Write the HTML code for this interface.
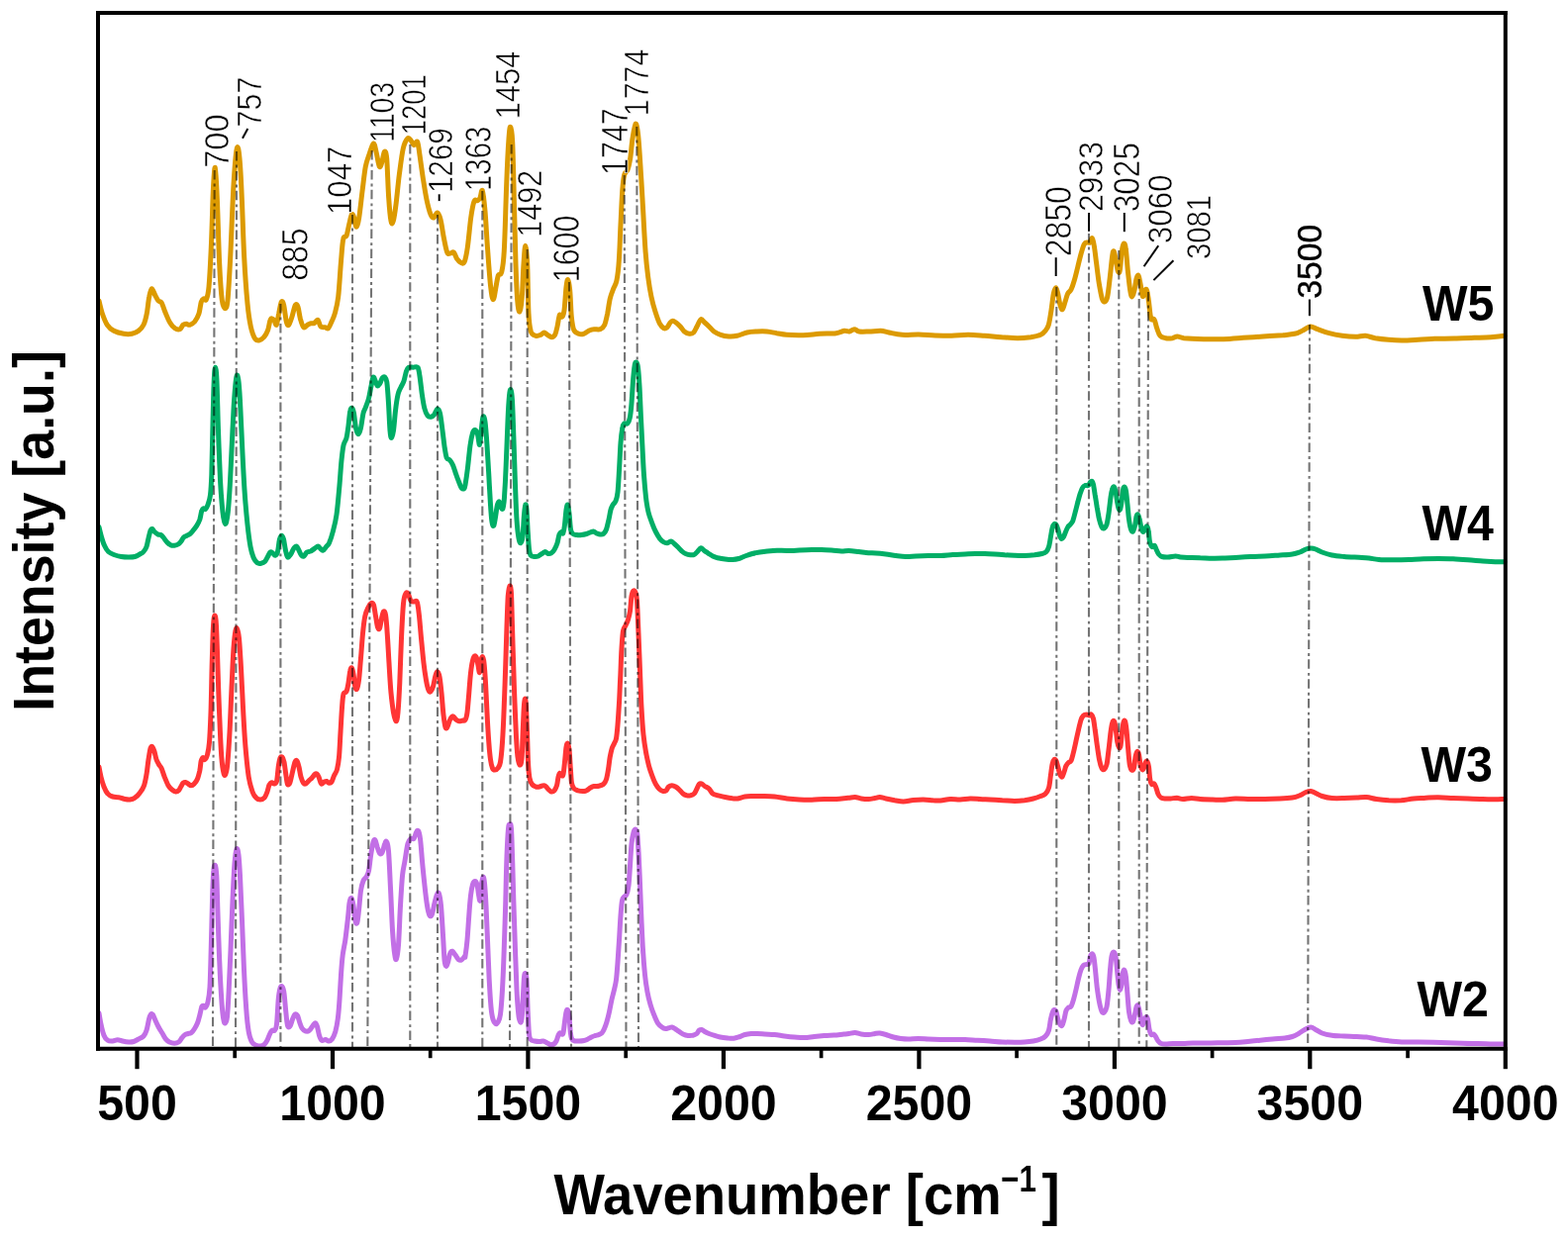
<!DOCTYPE html>
<html lang="en"><head><meta charset="utf-8"><title>Raman spectra W2-W5</title>
<style>
html,body{margin:0;padding:0;background:#fff;}
body{width:1584px;height:1251px;overflow:hidden;position:relative;}
svg{position:absolute;left:0;top:0;display:block;}
text{font-family:"Liberation Sans",sans-serif;fill:#000;}
.b{font-weight:bold;}
.tick{font-weight:bold;font-size:48.3px;text-anchor:middle;}
.ser{font-weight:bold;font-size:48.3px;}
.ax{font-weight:bold;font-size:54.2px;text-anchor:middle;}
.ay{font-weight:bold;font-size:53.8px;text-anchor:middle;}
.pk{stroke:#fff;stroke-width:0.6px;}
.c{fill:none;stroke-width:5.0;stroke-linejoin:round;stroke-linecap:round;}
.g{stroke:#747474;stroke-width:2.1;stroke-dasharray:9.5 4.1 2.9 3.4;fill:none;}
#guides{mix-blend-mode:multiply;}
.ld{stroke:#000;stroke-width:2.0;fill:none;}
</style></head><body>
<svg width="1584" height="1251" viewBox="0 0 1584 1251">
<rect x="0" y="0" width="1584" height="1251" fill="#ffffff"/>

<g id="curves">
<path class="c" stroke="#C26FE6" d="M100.0 1023.8C100.3 1025.6 101.2 1031.2 102.0 1035.0C102.8 1038.8 103.9 1043.5 105.0 1046.2C106.1 1049.0 107.3 1050.3 108.8 1051.2C110.2 1052.2 112.1 1052.1 113.8 1052.0C115.4 1051.9 117.1 1050.8 118.8 1050.8C120.4 1050.8 121.9 1051.6 123.8 1052.0C125.6 1052.4 128.1 1052.9 130.0 1053.0C131.9 1053.1 133.3 1053.0 135.0 1052.5C136.7 1052.0 138.3 1050.9 140.0 1050.0C141.7 1049.1 143.7 1048.5 145.0 1047.0C146.3 1045.5 147.1 1044.1 148.0 1041.2C148.9 1038.4 149.8 1032.7 150.5 1030.0C151.2 1027.3 151.8 1025.8 152.5 1025.0C153.2 1024.2 153.8 1024.5 154.5 1025.5C155.2 1026.5 156.1 1029.2 157.0 1031.2C157.9 1033.2 158.9 1035.4 160.0 1037.5C161.1 1039.6 162.5 1041.7 163.8 1043.8C165.0 1045.8 166.2 1048.5 167.5 1050.0C168.8 1051.5 169.8 1052.3 171.2 1053.0C172.7 1053.7 174.7 1054.2 176.2 1054.2C177.8 1054.2 179.2 1053.9 180.5 1053.0C181.8 1052.1 182.7 1050.0 183.8 1048.8C184.8 1047.5 186.0 1046.2 187.0 1045.5C188.0 1044.8 189.0 1044.8 190.0 1044.5C191.0 1044.2 192.0 1044.5 193.0 1043.8C194.0 1043.0 195.2 1041.7 196.2 1040.0C197.3 1038.3 198.5 1036.2 199.5 1033.8C200.5 1031.2 201.3 1027.7 202.0 1025.0C202.7 1022.3 203.2 1019.0 203.8 1017.5C204.3 1016.0 204.9 1016.2 205.5 1016.2C206.1 1016.3 206.8 1018.6 207.5 1018.0C208.2 1017.4 209.2 1015.9 210.0 1012.5C210.8 1009.1 211.5 1006.2 212.0 997.5C212.5 988.8 212.8 974.6 213.2 960.0C213.7 945.4 214.1 923.3 214.5 910.0C214.9 896.7 215.2 885.9 215.8 880.0C216.2 874.1 217.0 873.7 217.5 874.5C218.0 875.3 218.3 877.0 218.8 885.0C219.2 893.0 219.5 907.9 220.0 922.5C220.5 937.1 221.1 957.9 221.8 972.5C222.4 987.1 223.1 1000.4 223.8 1010.0C224.4 1019.6 225.1 1026.0 225.8 1030.0C226.4 1034.0 226.9 1034.2 227.5 1033.8C228.1 1033.3 228.9 1033.1 229.5 1027.5C230.1 1021.9 230.7 1011.2 231.2 1000.0C231.8 988.8 232.4 975.0 233.0 960.0C233.6 945.0 234.3 924.6 235.0 910.0C235.7 895.4 236.3 881.2 237.0 872.5C237.7 863.8 238.3 859.5 239.0 858.0C239.7 856.5 240.4 859.2 241.0 863.8C241.6 868.2 241.9 874.0 242.5 885.0C243.1 896.0 243.8 914.2 244.5 930.0C245.2 945.8 245.8 965.0 246.5 980.0C247.2 995.0 248.0 1009.6 248.8 1020.0C249.5 1030.4 250.3 1037.0 251.2 1042.5C252.2 1048.0 253.2 1050.7 254.5 1053.0C255.8 1055.3 257.3 1055.6 258.8 1056.2C260.2 1056.9 261.6 1057.1 263.0 1057.0C264.4 1056.9 265.8 1056.5 267.0 1055.5C268.2 1054.5 269.1 1053.0 270.0 1051.2C270.9 1049.5 271.7 1046.7 272.5 1045.0C273.3 1043.3 274.2 1041.9 275.0 1041.2C275.8 1040.6 276.8 1042.3 277.5 1041.2C278.2 1040.2 278.9 1040.2 279.5 1035.0C280.1 1029.8 280.7 1016.0 281.2 1010.0C281.8 1004.0 282.4 1000.9 283.0 998.8C283.6 996.6 284.3 996.2 285.0 997.0C285.7 997.8 286.4 999.5 287.0 1003.8C287.6 1008.0 288.2 1017.1 288.8 1022.5C289.3 1027.9 289.8 1033.8 290.5 1036.2C291.2 1038.7 292.2 1038.0 293.0 1037.0C293.8 1036.0 294.7 1032.0 295.5 1030.0C296.3 1028.0 297.2 1025.6 298.0 1025.0C298.8 1024.4 299.8 1025.0 300.5 1026.2C301.2 1027.5 301.8 1030.4 302.5 1032.5C303.2 1034.6 304.0 1037.2 305.0 1038.8C306.0 1040.3 307.5 1041.6 308.8 1042.0C310.0 1042.4 311.2 1042.2 312.5 1041.2C313.8 1040.3 315.2 1037.5 316.2 1036.2C317.3 1035.0 318.0 1033.5 318.8 1033.8C319.5 1034.0 319.9 1035.4 320.5 1037.5C321.1 1039.6 321.8 1044.0 322.5 1046.2C323.2 1048.5 324.0 1050.5 325.0 1051.2C326.0 1052.0 327.6 1050.4 328.8 1050.5C329.9 1050.6 330.9 1052.1 332.0 1052.0C333.1 1051.9 334.4 1051.6 335.5 1050.0C336.6 1048.4 337.8 1045.8 338.8 1042.5C339.7 1039.2 340.5 1035.4 341.2 1030.0C342.0 1024.6 342.5 1017.5 343.0 1010.0C343.5 1002.5 344.0 992.5 344.5 985.0C345.0 977.5 345.5 970.8 346.2 965.0C347.0 959.2 347.9 955.8 348.8 950.0C349.6 944.2 350.5 936.2 351.2 930.0C352.0 923.8 352.4 916.2 353.0 912.5C353.6 908.8 354.3 907.1 355.0 907.5C355.7 907.9 356.4 911.2 357.0 915.0C357.6 918.8 358.1 927.1 358.8 930.0C359.4 932.9 360.1 934.2 360.8 932.5C361.4 930.8 361.9 925.4 362.5 920.0C363.1 914.6 363.8 905.0 364.5 900.0C365.2 895.0 366.1 892.3 367.0 890.0C367.9 887.7 369.1 887.9 370.0 886.2C370.9 884.6 371.8 883.5 372.5 880.0C373.2 876.5 373.8 869.8 374.5 865.0C375.2 860.2 376.2 854.0 377.0 851.2C377.8 848.5 378.3 847.9 379.0 848.8C379.7 849.6 380.5 854.0 381.2 856.2C382.0 858.5 382.9 861.7 383.8 862.5C384.6 863.3 385.4 862.9 386.2 861.2C387.1 859.6 388.0 854.3 388.8 852.5C389.5 850.7 389.9 849.2 390.5 850.5C391.1 851.8 391.8 852.2 392.5 860.0C393.2 867.8 393.8 884.2 394.5 897.5C395.2 910.8 395.8 928.8 396.5 940.0C397.2 951.2 398.1 960.2 398.8 965.0C399.4 969.8 399.9 970.4 400.5 968.8C401.1 967.1 401.8 964.0 402.5 955.0C403.2 946.0 403.8 926.7 404.5 915.0C405.2 903.3 405.8 892.5 406.5 885.0C407.2 877.5 408.1 875.4 409.0 870.0C409.9 864.6 411.0 856.2 412.0 852.5C413.0 848.8 414.0 848.3 415.0 847.5C416.0 846.7 417.1 848.5 418.0 847.5C418.9 846.5 419.8 842.6 420.5 841.2C421.2 839.9 421.8 838.5 422.5 839.5C423.2 840.5 423.8 842.4 424.5 847.5C425.2 852.6 425.8 862.1 426.5 870.0C427.2 877.9 428.2 887.5 429.0 895.0C429.8 902.5 430.7 910.0 431.5 915.0C432.3 920.0 433.2 923.5 434.0 925.0C434.8 926.5 435.7 925.8 436.5 923.8C437.3 921.7 438.2 915.8 439.0 912.5C439.8 909.2 440.8 905.3 441.5 903.8C442.2 902.2 442.8 901.1 443.5 903.0C444.2 904.9 444.8 908.0 445.5 915.0C446.2 922.0 446.9 935.8 447.5 945.0C448.1 954.2 448.5 964.8 449.0 970.0C449.5 975.2 449.9 975.8 450.5 976.2C451.1 976.7 451.8 974.6 452.5 972.5C453.2 970.4 453.8 965.6 454.5 963.8C455.2 961.9 456.1 961.0 457.0 961.2C457.9 961.5 459.0 963.6 460.0 965.0C461.0 966.4 462.0 968.7 463.0 969.5C464.0 970.3 465.2 970.5 466.2 970.0C467.3 969.5 468.9 966.9 469.5 966.2C470.1 965.6 469.6 969.0 470.0 966.2C470.4 963.5 471.4 956.9 472.0 950.0C472.6 943.1 473.2 932.5 473.8 925.0C474.3 917.5 474.9 910.2 475.5 905.0C476.1 899.8 476.8 896.2 477.5 893.8C478.2 891.3 479.2 890.5 480.0 890.5C480.8 890.5 481.4 891.5 482.0 893.8C482.6 896.0 483.0 901.0 483.5 903.8C484.0 906.5 484.5 911.5 485.0 910.0C485.5 908.5 485.8 899.0 486.2 895.0C486.8 891.0 487.5 886.7 488.0 886.2C488.5 885.8 489.0 887.7 489.5 892.5C490.0 897.3 490.5 905.4 491.0 915.0C491.5 924.6 492.0 937.5 492.5 950.0C493.0 962.5 493.7 978.8 494.2 990.0C494.8 1001.2 495.4 1010.8 496.0 1017.5C496.6 1024.2 497.2 1027.2 498.0 1030.0C498.8 1032.8 499.7 1034.0 500.5 1034.5C501.3 1035.0 502.2 1034.6 503.0 1033.0C503.8 1031.4 504.8 1030.5 505.5 1025.0C506.2 1019.5 506.9 1010.8 507.5 1000.0C508.1 989.2 508.7 975.0 509.2 960.0C509.8 945.0 510.3 925.8 510.8 910.0C511.2 894.2 511.5 877.1 512.0 865.0C512.5 852.9 513.0 842.8 513.5 837.5C514.0 832.2 514.5 833.0 515.0 833.0C515.5 833.0 516.0 830.9 516.5 837.5C517.0 844.1 517.3 859.6 517.8 872.5C518.2 885.4 518.5 900.4 519.0 915.0C519.5 929.6 520.0 945.8 520.5 960.0C521.0 974.2 521.5 989.2 522.0 1000.0C522.5 1010.8 523.2 1019.6 523.8 1025.0C524.3 1030.4 525.0 1031.7 525.5 1032.5C526.0 1033.3 526.5 1033.8 527.0 1030.0C527.5 1026.2 527.8 1017.1 528.2 1010.0C528.7 1002.9 529.1 991.9 529.5 987.5C529.9 983.1 530.3 983.3 530.8 983.8C531.2 984.2 531.6 983.5 532.0 990.0C532.4 996.5 532.8 1013.3 533.2 1022.5C533.7 1031.7 534.0 1040.3 534.5 1045.0C535.0 1049.7 535.3 1049.3 536.2 1050.5C537.2 1051.7 538.5 1051.7 540.0 1052.0C541.5 1052.3 543.5 1052.5 545.0 1052.5C546.5 1052.5 547.5 1051.8 548.8 1052.0C550.0 1052.2 551.2 1053.1 552.5 1053.8C553.8 1054.4 555.1 1055.5 556.2 1055.8C557.4 1056.0 558.5 1055.6 559.5 1055.0C560.5 1054.4 561.2 1053.5 562.0 1052.0C562.8 1050.5 563.4 1047.6 564.0 1046.2C564.6 1044.9 564.9 1044.0 565.5 1043.8C566.1 1043.5 566.9 1045.0 567.5 1045.0C568.1 1045.0 568.5 1045.8 569.0 1043.8C569.5 1041.7 570.0 1036.0 570.5 1032.5C571.0 1029.0 571.5 1024.5 572.0 1022.5C572.5 1020.5 573.0 1019.7 573.5 1020.5C574.0 1021.3 574.5 1023.8 575.0 1027.5C575.5 1031.2 575.8 1038.8 576.2 1042.5C576.7 1046.2 576.9 1048.0 577.5 1049.5C578.1 1051.0 578.8 1051.3 580.0 1051.8C581.2 1052.2 583.3 1052.0 585.0 1052.0C586.7 1052.0 588.5 1051.8 590.0 1051.5C591.5 1051.2 592.5 1050.6 593.8 1050.0C595.0 1049.4 596.2 1048.6 597.5 1048.0C598.8 1047.4 600.0 1046.9 601.2 1046.5C602.5 1046.1 603.9 1046.0 605.0 1045.5C606.1 1045.0 607.1 1044.8 608.0 1043.8C608.9 1042.8 609.7 1041.4 610.5 1039.5C611.3 1037.6 612.2 1035.3 613.0 1032.5C613.8 1029.7 614.7 1026.2 615.5 1022.5C616.3 1018.8 617.2 1013.8 618.0 1010.0C618.8 1006.2 619.8 1003.3 620.5 1000.0C621.2 996.7 621.9 994.6 622.5 990.0C623.1 985.4 623.5 979.2 624.0 972.5C624.5 965.8 625.0 957.9 625.5 950.0C626.0 942.1 626.5 931.7 627.0 925.0C627.5 918.3 627.9 913.1 628.5 910.0C629.1 906.9 629.8 907.3 630.5 906.2C631.2 905.2 632.2 905.6 633.0 903.8C633.8 901.9 634.4 899.8 635.0 895.0C635.6 890.2 636.0 882.1 636.5 875.0C637.0 867.9 637.4 858.1 638.0 852.5C638.6 846.9 639.3 843.7 640.0 841.2C640.7 838.8 641.4 837.8 642.0 838.0C642.6 838.2 643.2 838.8 643.8 842.5C644.2 846.2 644.5 851.7 645.0 860.0C645.5 868.3 646.0 880.8 646.5 892.5C647.0 904.2 647.5 918.8 648.0 930.0C648.5 941.2 648.9 950.8 649.5 960.0C650.1 969.2 650.8 977.9 651.5 985.0C652.2 992.1 653.1 997.5 654.0 1002.5C654.9 1007.5 655.9 1011.2 657.0 1015.0C658.1 1018.8 659.2 1021.9 660.5 1025.0C661.8 1028.1 663.1 1031.6 664.5 1033.8C665.9 1035.9 667.4 1037.0 668.8 1038.0C670.1 1039.0 671.4 1039.4 672.5 1039.5C673.6 1039.6 674.5 1039.0 675.5 1038.8C676.5 1038.5 677.6 1037.8 678.8 1038.0C679.9 1038.2 681.2 1039.2 682.5 1040.0C683.8 1040.8 685.0 1041.7 686.2 1042.5C687.5 1043.3 688.5 1044.3 690.0 1045.0C691.5 1045.7 693.3 1046.3 695.0 1046.5C696.7 1046.7 698.5 1046.6 700.0 1046.2C701.5 1045.9 702.7 1045.3 703.8 1044.5C704.8 1043.7 705.4 1041.9 706.2 1041.2C707.1 1040.6 707.8 1040.3 708.8 1040.5C709.7 1040.7 710.8 1041.8 712.0 1042.5C713.2 1043.2 714.7 1043.9 716.2 1044.5C717.8 1045.1 719.4 1045.7 721.2 1046.2C723.1 1046.8 725.2 1047.5 727.5 1048.0C729.8 1048.5 732.7 1048.8 735.0 1049.0C737.3 1049.2 739.2 1049.5 741.2 1049.2C743.3 1049.0 745.6 1048.1 747.5 1047.5C749.4 1046.9 750.6 1046.0 752.5 1045.5C754.4 1045.0 756.7 1044.7 758.8 1044.5C760.8 1044.3 762.7 1044.4 765.0 1044.5C767.3 1044.6 769.6 1044.8 772.5 1045.0C775.4 1045.2 779.2 1045.2 782.5 1045.5C785.8 1045.8 789.2 1046.6 792.5 1047.0C795.8 1047.4 799.2 1047.8 802.5 1048.0C805.8 1048.2 809.2 1048.6 812.5 1048.5C815.8 1048.4 819.2 1047.8 822.5 1047.5C825.8 1047.2 829.2 1046.8 832.5 1046.5C835.8 1046.2 839.2 1046.2 842.5 1046.0C845.8 1045.8 850.0 1045.2 852.5 1045.0C855.0 1044.8 855.6 1044.8 857.5 1044.5C859.4 1044.2 861.7 1043.4 863.8 1043.5C865.8 1043.6 867.7 1044.7 870.0 1045.0C872.3 1045.3 875.2 1045.6 877.5 1045.5C879.8 1045.4 881.9 1044.8 883.8 1044.5C885.6 1044.2 886.9 1043.8 888.8 1044.0C890.6 1044.2 892.7 1044.8 895.0 1045.5C897.3 1046.2 900.0 1047.3 902.5 1048.0C905.0 1048.7 907.5 1049.2 910.0 1049.5C912.5 1049.8 914.6 1050.0 917.5 1050.0C920.4 1050.0 924.2 1049.5 927.5 1049.5C930.8 1049.5 933.8 1049.8 937.5 1050.0C941.2 1050.2 945.8 1050.4 950.0 1050.5C954.2 1050.6 958.3 1050.5 962.5 1050.5C966.7 1050.5 970.8 1050.4 975.0 1050.5C979.2 1050.6 983.3 1051.0 987.5 1051.2C991.7 1051.5 995.8 1051.7 1000.0 1052.0C1004.2 1052.3 1008.3 1052.8 1012.5 1053.0C1016.7 1053.2 1021.2 1053.2 1025.0 1053.2C1028.8 1053.2 1031.9 1053.2 1035.0 1053.0C1038.1 1052.8 1041.0 1052.5 1043.8 1052.0C1046.5 1051.5 1049.2 1050.8 1051.2 1050.0C1053.3 1049.2 1054.9 1048.5 1056.2 1047.0C1057.6 1045.5 1058.7 1043.9 1059.5 1041.2C1060.3 1038.6 1060.7 1034.2 1061.2 1031.2C1061.8 1028.3 1062.4 1025.5 1063.0 1023.8C1063.6 1022.0 1064.3 1020.7 1065.0 1020.5C1065.7 1020.3 1066.4 1020.9 1067.0 1022.5C1067.6 1024.1 1068.1 1027.9 1068.8 1030.0C1069.4 1032.1 1070.0 1034.0 1070.8 1035.0C1071.5 1036.0 1072.3 1037.1 1073.0 1036.2C1073.7 1035.4 1074.3 1032.5 1075.0 1030.0C1075.7 1027.5 1076.2 1023.2 1077.0 1021.2C1077.8 1019.2 1078.7 1018.7 1079.5 1018.0C1080.3 1017.3 1081.2 1018.3 1082.0 1017.0C1082.8 1015.7 1083.7 1012.8 1084.5 1010.0C1085.3 1007.2 1086.2 1003.5 1087.0 1000.0C1087.8 996.5 1088.7 992.1 1089.5 988.8C1090.3 985.4 1091.2 982.2 1092.0 980.0C1092.8 977.8 1093.6 976.4 1094.5 975.5C1095.4 974.6 1096.6 974.8 1097.5 974.5C1098.4 974.2 1099.3 975.1 1100.0 973.8C1100.7 972.4 1100.9 967.9 1101.5 966.2C1102.1 964.6 1102.9 963.5 1103.5 963.8C1104.1 964.0 1104.5 964.8 1105.0 967.5C1105.5 970.2 1106.0 975.0 1106.5 980.0C1107.0 985.0 1107.6 992.1 1108.2 997.5C1108.9 1002.9 1109.7 1008.4 1110.5 1012.5C1111.3 1016.6 1112.2 1020.2 1113.0 1022.0C1113.8 1023.8 1114.7 1023.8 1115.5 1023.0C1116.3 1022.2 1117.2 1021.3 1118.0 1017.5C1118.8 1013.7 1119.4 1006.2 1120.0 1000.0C1120.6 993.8 1121.0 985.6 1121.5 980.0C1122.0 974.4 1122.4 969.2 1123.0 966.2C1123.6 963.2 1124.3 962.0 1125.0 962.0C1125.7 962.0 1126.4 963.2 1127.0 966.2C1127.6 969.2 1128.0 975.2 1128.5 980.0C1129.0 984.8 1129.5 991.6 1130.0 995.0C1130.5 998.4 1131.0 1000.5 1131.5 1000.5C1132.0 1000.5 1132.5 998.0 1133.0 995.0C1133.5 992.0 1134.0 984.9 1134.5 982.5C1135.0 980.1 1135.5 979.7 1136.0 980.5C1136.5 981.3 1137.0 983.4 1137.5 987.5C1138.0 991.6 1138.5 999.2 1139.0 1005.0C1139.5 1010.8 1139.9 1018.1 1140.5 1022.5C1141.1 1026.9 1141.8 1029.6 1142.5 1031.2C1143.2 1032.9 1143.8 1033.5 1144.5 1032.5C1145.2 1031.5 1145.9 1027.5 1146.5 1025.0C1147.1 1022.5 1147.5 1019.0 1148.0 1017.5C1148.5 1016.0 1149.0 1015.4 1149.5 1016.2C1150.0 1017.1 1150.7 1019.8 1151.2 1022.5C1151.8 1025.2 1152.5 1030.3 1153.0 1032.5C1153.5 1034.7 1154.0 1035.9 1154.5 1035.5C1155.0 1035.1 1155.7 1031.3 1156.2 1030.0C1156.8 1028.7 1157.5 1027.5 1158.0 1027.5C1158.5 1027.5 1159.0 1027.9 1159.5 1030.0C1160.0 1032.1 1160.4 1037.4 1161.0 1040.0C1161.6 1042.6 1162.2 1044.7 1163.0 1045.5C1163.8 1046.3 1164.8 1044.7 1165.5 1045.0C1166.2 1045.3 1166.8 1046.3 1167.5 1047.5C1168.2 1048.7 1169.1 1050.8 1170.0 1052.0C1170.9 1053.2 1171.8 1054.0 1173.0 1054.5C1174.2 1055.0 1175.5 1055.0 1177.5 1055.0C1179.5 1055.0 1182.1 1054.6 1185.0 1054.5C1187.9 1054.4 1191.7 1054.6 1195.0 1054.5C1198.3 1054.4 1201.2 1054.1 1205.0 1054.0C1208.8 1053.9 1213.3 1054.0 1217.5 1054.0C1221.7 1054.0 1224.9 1053.8 1230.0 1053.8C1235.1 1053.7 1242.9 1053.7 1248.0 1053.5C1253.1 1053.3 1256.3 1052.9 1260.5 1052.5C1264.7 1052.1 1268.8 1051.7 1273.0 1051.2C1277.2 1050.8 1281.3 1050.4 1285.5 1050.0C1289.7 1049.6 1294.7 1049.4 1298.0 1049.0C1301.3 1048.6 1303.2 1048.2 1305.5 1047.5C1307.8 1046.8 1309.7 1045.7 1311.8 1044.5C1313.8 1043.3 1315.9 1041.6 1318.0 1040.5C1320.1 1039.4 1322.4 1038.0 1324.2 1038.0C1326.1 1038.0 1327.4 1039.5 1329.2 1040.5C1331.1 1041.5 1332.8 1043.0 1335.5 1044.0C1338.2 1045.0 1341.8 1045.8 1345.5 1046.2C1349.2 1046.8 1353.8 1046.8 1358.0 1047.0C1362.2 1047.2 1366.8 1047.3 1370.5 1047.5C1374.2 1047.7 1377.2 1047.6 1380.5 1048.0C1383.8 1048.4 1386.8 1049.4 1390.5 1050.0C1394.2 1050.6 1398.4 1051.2 1403.0 1051.8C1407.6 1052.2 1413.0 1052.8 1418.0 1053.0C1423.0 1053.2 1428.0 1053.0 1433.0 1053.0C1438.0 1053.0 1443.0 1053.1 1448.0 1053.2C1453.0 1053.4 1458.0 1053.6 1463.0 1053.8C1468.0 1053.9 1473.0 1054.1 1478.0 1054.2C1483.0 1054.4 1488.0 1054.4 1493.0 1054.5C1498.0 1054.6 1503.5 1054.9 1508.0 1055.0C1512.5 1055.1 1518.0 1055.0 1520.0 1055.0"/>
<path class="c" stroke="#FF3535" d="M100.0 775.0C100.3 776.7 101.2 781.7 102.0 785.0C102.8 788.3 103.9 792.2 105.0 795.0C106.1 797.8 107.3 800.3 108.8 802.0C110.2 803.7 111.9 804.4 113.8 805.0C115.6 805.6 117.9 805.3 120.0 805.8C122.1 806.2 124.4 807.1 126.2 807.5C128.1 807.9 129.6 808.2 131.2 808.0C132.9 807.8 134.6 807.4 136.2 806.2C137.9 805.1 139.7 803.3 141.2 801.2C142.8 799.2 144.4 796.9 145.5 793.8C146.6 790.6 147.2 786.9 148.0 782.5C148.8 778.1 149.3 771.9 150.0 767.5C150.7 763.1 151.4 758.4 152.0 756.2C152.6 754.1 153.1 754.1 153.8 754.5C154.4 754.9 155.0 756.6 155.8 758.8C156.5 760.9 157.2 765.2 158.0 767.5C158.8 769.8 159.7 771.0 160.5 772.5C161.3 774.0 162.0 774.2 163.0 776.2C164.0 778.3 165.1 782.1 166.2 785.0C167.4 787.9 168.8 791.6 170.0 793.8C171.2 795.9 172.5 797.0 173.8 798.0C175.0 799.0 176.4 799.9 177.5 800.0C178.6 800.1 179.6 799.7 180.5 798.8C181.4 797.8 182.2 795.8 183.0 794.5C183.8 793.2 184.2 791.9 185.0 791.2C185.8 790.6 186.7 790.4 187.5 790.5C188.3 790.6 189.1 791.5 190.0 792.0C190.9 792.5 192.0 793.8 193.0 793.8C194.0 793.8 195.2 793.1 196.2 792.0C197.3 790.9 198.6 789.2 199.5 787.0C200.4 784.8 201.1 781.8 201.8 778.8C202.4 775.7 202.7 771.0 203.2 768.8C203.8 766.5 204.4 765.7 205.0 765.5C205.6 765.3 206.2 768.0 207.0 767.5C207.8 767.0 208.8 765.4 209.5 762.5C210.2 759.6 210.9 757.1 211.5 750.0C212.1 742.9 212.5 733.3 213.0 720.0C213.5 706.7 213.8 684.6 214.2 670.0C214.7 655.4 215.0 640.5 215.5 632.5C216.0 624.5 216.5 622.0 217.0 622.0C217.5 622.0 218.0 623.7 218.5 632.5C219.0 641.3 219.5 659.6 220.0 675.0C220.5 690.4 221.1 710.0 221.8 725.0C222.4 740.0 223.0 755.5 223.8 765.0C224.5 774.5 225.5 779.3 226.2 782.0C227.0 784.7 227.6 783.2 228.2 781.2C228.9 779.2 229.4 776.9 230.0 770.0C230.6 763.1 231.3 752.5 232.0 740.0C232.7 727.5 233.3 709.2 234.0 695.0C234.7 680.8 235.3 664.7 236.0 655.0C236.7 645.3 237.4 640.2 238.0 637.0C238.6 633.8 238.9 634.2 239.5 635.5C240.1 636.8 240.8 638.4 241.5 645.0C242.2 651.6 242.8 663.3 243.5 675.0C244.2 686.7 244.8 701.7 245.5 715.0C246.2 728.3 247.0 743.3 248.0 755.0C249.0 766.7 250.1 777.5 251.2 785.0C252.4 792.5 253.8 796.5 255.0 800.0C256.2 803.5 257.4 804.9 258.8 806.2C260.1 807.6 261.6 808.0 263.0 808.0C264.4 808.0 265.8 807.6 267.0 806.2C268.2 804.9 269.2 802.2 270.0 800.0C270.8 797.8 271.2 794.8 272.0 793.2C272.8 791.7 273.7 791.0 274.5 790.8C275.3 790.5 276.2 792.2 277.0 792.0C277.8 791.8 278.8 792.3 279.5 789.5C280.2 786.7 280.7 778.9 281.2 775.0C281.8 771.1 282.4 767.9 283.0 766.2C283.6 764.6 284.3 764.4 285.0 765.0C285.7 765.6 286.4 767.1 287.0 770.0C287.6 772.9 288.2 778.8 288.8 782.5C289.3 786.2 289.8 791.2 290.5 792.5C291.2 793.8 292.2 792.6 293.0 790.5C293.8 788.4 294.7 783.4 295.5 780.0C296.3 776.6 297.2 771.9 298.0 770.0C298.8 768.1 299.3 767.9 300.0 768.8C300.7 769.6 301.3 772.3 302.0 775.0C302.7 777.7 303.2 782.3 304.0 785.0C304.8 787.7 305.7 790.1 306.5 791.2C307.3 792.4 308.1 792.4 309.0 792.0C309.9 791.6 311.0 789.7 312.0 788.8C313.0 787.8 314.0 787.3 315.0 786.2C316.0 785.2 317.2 783.2 318.0 782.5C318.8 781.8 319.3 781.6 320.0 782.0C320.7 782.4 321.2 783.3 322.0 785.0C322.8 786.7 323.6 791.2 324.5 792.0C325.4 792.8 326.6 790.4 327.5 790.0C328.4 789.6 329.2 789.3 330.0 789.5C330.8 789.7 331.7 791.2 332.5 791.2C333.3 791.3 334.2 791.2 335.0 790.0C335.8 788.8 336.6 785.8 337.5 783.8C338.4 781.7 339.7 780.6 340.5 777.5C341.3 774.4 341.9 771.2 342.5 765.0C343.1 758.8 343.5 748.3 344.0 740.0C344.5 731.7 345.0 721.5 345.5 715.0C346.0 708.5 346.2 704.0 347.0 701.2C347.8 698.5 349.2 700.6 350.0 698.8C350.8 696.9 351.4 693.5 352.0 690.0C352.6 686.5 353.2 680.0 353.8 677.5C354.3 675.0 355.0 674.4 355.5 675.0C356.0 675.6 356.5 678.1 357.0 681.2C357.5 684.4 358.2 691.2 358.8 693.8C359.3 696.2 359.9 697.3 360.5 696.2C361.1 695.2 361.8 692.7 362.5 687.5C363.2 682.3 363.8 672.9 364.5 665.0C365.2 657.1 365.8 647.1 366.5 640.0C367.2 632.9 367.8 626.9 368.8 622.5C369.7 618.1 371.0 615.9 372.0 613.8C373.0 611.6 374.1 609.9 375.0 609.5C375.9 609.1 376.8 609.1 377.5 611.2C378.2 613.4 378.8 618.8 379.5 622.5C380.2 626.2 380.8 631.7 381.5 633.8C382.2 635.8 382.8 636.5 383.5 635.0C384.2 633.5 384.8 627.8 385.5 625.0C386.2 622.2 386.8 618.6 387.5 618.0C388.2 617.4 388.9 617.6 389.5 621.2C390.1 624.9 390.7 631.9 391.2 640.0C391.8 648.1 392.4 660.0 393.0 670.0C393.6 680.0 394.2 691.7 395.0 700.0C395.8 708.3 396.7 715.2 397.5 720.0C398.3 724.8 399.2 728.8 400.0 728.8C400.8 728.8 401.4 726.5 402.0 720.0C402.6 713.5 403.2 702.5 403.8 690.0C404.3 677.5 404.9 658.3 405.5 645.0C406.1 631.7 406.8 617.6 407.5 610.0C408.2 602.4 409.2 601.1 410.0 599.5C410.8 597.9 411.7 599.2 412.5 600.5C413.3 601.8 414.1 605.8 415.0 607.0C415.9 608.2 417.0 607.8 418.0 608.0C419.0 608.2 420.4 606.0 421.2 608.0C422.1 610.0 422.5 613.8 423.2 620.0C424.0 626.2 424.7 636.7 425.5 645.0C426.3 653.3 427.2 662.9 428.0 670.0C428.8 677.1 429.7 682.9 430.5 687.5C431.3 692.1 432.2 695.6 433.0 697.5C433.8 699.4 434.2 699.4 435.0 698.8C435.8 698.1 436.7 696.5 437.5 693.8C438.3 691.0 439.2 685.0 440.0 682.5C440.8 680.0 441.3 678.5 442.0 678.8C442.7 679.0 443.3 680.2 444.0 683.8C444.7 687.3 445.3 693.5 446.0 700.0C446.7 706.5 447.3 716.7 448.0 722.5C448.7 728.3 449.3 733.0 450.0 735.0C450.7 737.0 451.2 735.8 452.0 734.5C452.8 733.2 453.6 729.3 454.5 727.5C455.4 725.7 456.5 723.8 457.5 723.8C458.5 723.7 459.5 726.2 460.5 727.0C461.5 727.8 462.6 728.6 463.8 728.8C464.9 728.9 466.5 728.2 467.5 728.0C468.5 727.8 469.2 728.8 470.0 727.5C470.8 726.2 471.4 724.6 472.0 720.0C472.6 715.4 473.2 706.7 473.8 700.0C474.3 693.3 474.9 685.4 475.5 680.0C476.1 674.6 476.8 670.3 477.5 667.5C478.2 664.7 478.8 663.4 479.5 663.0C480.2 662.6 480.9 663.4 481.5 665.0C482.1 666.6 482.5 670.1 483.0 672.5C483.5 674.9 484.0 680.3 484.5 679.5C485.0 678.7 485.5 670.1 486.0 667.5C486.5 664.9 487.0 663.3 487.5 663.8C488.0 664.2 488.5 665.6 489.0 670.0C489.5 674.4 490.0 681.7 490.5 690.0C491.0 698.3 491.5 710.0 492.0 720.0C492.5 730.0 493.2 742.1 493.8 750.0C494.3 757.9 494.9 763.1 495.5 767.5C496.1 771.9 496.8 774.5 497.5 776.2C498.2 778.0 499.1 778.0 500.0 778.0C500.9 778.0 502.1 777.6 503.0 776.2C503.9 774.9 504.8 774.4 505.5 770.0C506.2 765.6 506.9 759.2 507.5 750.0C508.1 740.8 508.7 728.3 509.2 715.0C509.8 701.7 510.3 683.8 510.8 670.0C511.2 656.2 511.6 643.8 512.0 632.5C512.4 621.2 512.8 609.2 513.2 602.5C513.8 595.8 514.5 592.4 515.0 592.0C515.5 591.6 516.1 593.2 516.5 600.0C516.9 606.8 517.1 620.0 517.5 632.5C517.9 645.0 518.3 662.1 518.8 675.0C519.2 687.9 519.5 698.3 520.0 710.0C520.5 721.7 521.0 735.8 521.5 745.0C522.0 754.2 522.4 760.3 523.0 765.0C523.6 769.7 524.3 772.6 525.0 773.0C525.7 773.4 526.5 772.2 527.0 767.5C527.5 762.8 527.7 752.9 528.0 745.0C528.3 737.1 528.7 726.2 529.0 720.0C529.3 713.8 529.6 709.2 530.0 707.5C530.4 705.8 530.8 704.6 531.2 710.0C531.7 715.4 532.1 730.0 532.5 740.0C532.9 750.0 533.1 762.3 533.5 770.0C533.9 777.7 534.3 782.5 535.0 786.2C535.7 790.0 536.5 791.0 537.5 792.5C538.5 794.0 540.0 794.6 541.2 795.0C542.5 795.4 543.8 795.2 545.0 795.0C546.2 794.8 547.7 793.8 548.8 793.8C549.8 793.7 550.4 793.9 551.2 794.5C552.1 795.1 552.8 796.6 553.8 797.5C554.7 798.4 556.0 799.8 557.0 800.0C558.0 800.2 559.1 799.8 560.0 798.8C560.9 797.7 561.8 796.0 562.5 793.8C563.2 791.5 563.5 787.1 564.0 785.0C564.5 782.9 564.9 781.5 565.5 781.2C566.1 781.0 566.9 783.5 567.5 783.8C568.1 784.0 568.5 784.8 569.0 782.5C569.5 780.2 570.0 774.6 570.5 770.0C571.0 765.4 571.5 758.1 572.0 755.0C572.5 751.9 573.0 750.8 573.5 751.2C574.0 751.7 574.5 753.5 575.0 757.5C575.5 761.5 575.8 769.4 576.2 775.0C576.7 780.6 576.9 787.6 577.5 791.2C578.1 794.9 579.0 795.8 580.0 797.0C581.0 798.2 582.3 798.3 583.8 798.8C585.2 799.2 587.3 799.5 588.8 799.5C590.2 799.5 591.2 799.3 592.5 798.8C593.8 798.2 595.0 797.0 596.2 796.2C597.5 795.5 598.5 794.8 600.0 794.5C601.5 794.2 603.4 794.6 605.0 794.2C606.6 793.9 608.2 793.6 609.5 792.5C610.8 791.4 611.7 790.0 612.5 787.5C613.3 785.0 613.9 781.2 614.5 777.5C615.1 773.8 615.6 768.5 616.2 765.0C616.9 761.5 617.5 758.5 618.2 756.2C619.0 754.0 619.8 752.9 620.5 751.2C621.2 749.6 621.9 749.4 622.5 746.2C623.1 743.1 623.5 738.5 624.0 732.5C624.5 726.5 625.0 718.3 625.5 710.0C626.0 701.7 626.3 691.7 626.8 682.5C627.2 673.3 627.5 662.5 628.0 655.0C628.5 647.5 628.8 641.3 629.5 637.5C630.2 633.7 631.2 633.9 632.0 632.0C632.8 630.1 633.8 628.7 634.5 626.2C635.2 623.8 635.9 621.5 636.5 617.5C637.1 613.5 637.4 605.9 638.0 602.5C638.6 599.1 639.3 597.6 640.0 597.0C640.7 596.4 641.4 597.0 642.0 598.8C642.6 600.5 643.0 600.6 643.5 607.5C644.0 614.4 644.5 628.3 645.0 640.0C645.5 651.7 646.0 665.0 646.5 677.5C647.0 690.0 647.4 704.2 648.0 715.0C648.6 725.8 649.2 735.0 650.0 742.5C650.8 750.0 651.6 754.8 652.5 760.0C653.4 765.2 654.5 769.8 655.5 773.8C656.5 777.7 657.6 780.6 658.8 783.8C659.9 786.9 661.2 790.2 662.5 792.5C663.8 794.8 665.0 796.3 666.2 797.5C667.5 798.7 668.9 799.3 670.0 799.5C671.1 799.7 672.1 799.5 673.0 798.8C673.9 798.0 674.5 795.8 675.5 795.0C676.5 794.2 677.6 793.8 678.8 793.8C679.9 793.8 681.2 794.3 682.5 795.0C683.8 795.7 685.0 796.8 686.2 798.0C687.5 799.2 688.8 801.0 690.0 802.0C691.2 803.0 692.5 803.5 693.8 803.8C695.0 804.0 696.2 804.0 697.5 803.8C698.8 803.5 700.2 803.0 701.2 802.0C702.3 801.0 702.9 799.1 703.8 797.5C704.6 795.9 705.4 793.4 706.2 792.5C707.1 791.6 707.8 791.7 708.8 792.0C709.7 792.3 710.8 793.7 712.0 794.5C713.2 795.3 714.9 795.8 716.2 797.0C717.6 798.2 718.5 800.9 720.0 802.0C721.5 803.1 722.9 803.2 725.0 803.8C727.1 804.3 730.0 805.0 732.5 805.5C735.0 806.0 737.9 806.5 740.0 806.8C742.1 807.0 742.9 807.3 745.0 807.0C747.1 806.7 750.0 805.4 752.5 805.0C755.0 804.6 757.1 804.6 760.0 804.5C762.9 804.4 766.2 804.4 770.0 804.5C773.8 804.6 778.3 804.6 782.5 805.0C786.7 805.4 790.8 806.5 795.0 807.0C799.2 807.5 803.3 807.8 807.5 808.0C811.7 808.2 815.8 808.3 820.0 808.2C824.2 808.2 828.3 807.6 832.5 807.5C836.7 807.4 841.2 807.7 845.0 807.5C848.8 807.3 852.9 806.7 855.0 806.5C857.1 806.3 856.0 806.4 857.5 806.2C859.0 806.1 861.7 805.4 863.8 805.5C865.8 805.6 867.7 806.7 870.0 807.0C872.3 807.3 875.2 807.6 877.5 807.5C879.8 807.4 881.9 806.8 883.8 806.5C885.6 806.2 886.9 805.4 888.8 805.5C890.6 805.6 892.5 806.5 895.0 807.0C897.5 807.5 900.8 808.2 903.8 808.8C906.7 809.2 909.4 810.0 912.5 810.0C915.6 810.0 919.2 808.8 922.5 808.5C925.8 808.2 929.2 808.0 932.5 808.0C935.8 808.0 939.6 808.6 942.5 808.8C945.4 808.9 947.1 809.2 950.0 809.0C952.9 808.8 956.7 807.7 960.0 807.5C963.3 807.3 966.7 808.1 970.0 808.0C973.3 807.9 976.7 807.1 980.0 807.0C983.3 806.9 986.7 807.3 990.0 807.5C993.3 807.7 996.2 807.8 1000.0 808.0C1003.8 808.2 1008.3 808.5 1012.5 808.8C1016.7 809.0 1021.2 809.5 1025.0 809.5C1028.8 809.5 1031.9 809.2 1035.0 808.8C1038.1 808.3 1041.0 807.7 1043.8 807.0C1046.5 806.3 1049.2 805.3 1051.2 804.5C1053.3 803.7 1054.9 803.4 1056.2 802.0C1057.6 800.6 1058.7 799.1 1059.5 796.2C1060.3 793.4 1060.7 789.0 1061.2 785.0C1061.8 781.0 1062.4 775.4 1063.0 772.5C1063.6 769.6 1064.3 768.1 1065.0 767.5C1065.7 766.9 1066.4 767.5 1067.0 768.8C1067.6 770.0 1068.1 772.7 1068.8 775.0C1069.4 777.3 1070.0 780.8 1070.8 782.5C1071.5 784.2 1072.3 785.4 1073.0 785.0C1073.7 784.6 1074.3 781.9 1075.0 780.0C1075.7 778.1 1076.2 775.3 1077.0 773.8C1077.8 772.2 1078.7 771.3 1079.5 770.5C1080.3 769.7 1081.2 770.5 1082.0 768.8C1082.8 767.0 1083.7 763.3 1084.5 760.0C1085.3 756.7 1086.2 752.5 1087.0 748.8C1087.8 745.0 1088.7 741.0 1089.5 737.5C1090.3 734.0 1091.2 729.9 1092.0 727.5C1092.8 725.1 1093.6 723.9 1094.5 723.0C1095.4 722.1 1096.5 722.0 1097.5 722.0C1098.5 722.0 1099.7 723.0 1100.5 723.0C1101.3 723.0 1101.8 721.5 1102.5 722.0C1103.2 722.5 1103.9 723.7 1104.5 726.2C1105.1 728.8 1105.6 733.1 1106.2 737.5C1106.9 741.9 1107.5 747.5 1108.2 752.5C1109.0 757.5 1109.7 763.5 1110.5 767.5C1111.3 771.5 1112.2 774.6 1113.0 776.2C1113.8 777.9 1114.7 778.1 1115.5 777.5C1116.3 776.9 1117.2 775.8 1118.0 772.5C1118.8 769.2 1119.3 762.9 1120.0 757.5C1120.7 752.1 1121.4 744.6 1122.0 740.0C1122.6 735.4 1123.2 731.9 1123.8 730.0C1124.3 728.1 1125.0 727.9 1125.5 728.8C1126.0 729.6 1126.5 731.5 1127.0 735.0C1127.5 738.5 1128.2 746.6 1128.8 750.0C1129.3 753.4 1130.0 754.9 1130.5 755.5C1131.0 756.1 1131.5 756.3 1132.0 753.8C1132.5 751.2 1133.0 744.0 1133.5 740.0C1134.0 736.0 1134.5 731.9 1135.0 730.0C1135.5 728.1 1136.0 727.5 1136.5 728.8C1137.0 730.0 1137.5 733.1 1138.0 737.5C1138.5 741.9 1139.0 749.2 1139.5 755.0C1140.0 760.8 1140.6 768.7 1141.2 772.5C1141.9 776.3 1142.5 777.4 1143.2 778.0C1144.0 778.6 1144.9 778.4 1145.5 776.2C1146.1 774.1 1146.5 767.8 1147.0 765.0C1147.5 762.2 1148.2 759.9 1148.8 759.5C1149.3 759.1 1150.0 760.3 1150.5 762.5C1151.0 764.7 1151.5 770.0 1152.0 772.5C1152.5 775.0 1153.2 776.9 1153.8 777.5C1154.3 778.1 1154.9 777.5 1155.5 776.2C1156.1 775.0 1156.9 771.1 1157.5 770.0C1158.1 768.9 1158.5 768.7 1159.0 769.5C1159.5 770.3 1160.0 772.0 1160.5 775.0C1161.0 778.0 1161.2 784.6 1161.8 787.5C1162.2 790.4 1162.8 791.8 1163.5 792.5C1164.2 793.2 1165.2 791.4 1166.0 792.0C1166.8 792.6 1167.3 794.5 1168.0 796.2C1168.7 798.0 1169.2 800.8 1170.0 802.5C1170.8 804.2 1171.8 805.5 1173.0 806.2C1174.2 807.0 1175.9 806.9 1177.5 807.0C1179.1 807.1 1180.6 807.1 1182.5 807.0C1184.4 806.9 1186.7 806.2 1188.8 806.2C1190.8 806.3 1192.5 807.5 1195.0 807.5C1197.5 807.5 1200.8 806.5 1203.8 806.5C1206.7 806.5 1209.0 807.2 1212.5 807.5C1216.0 807.8 1221.2 807.9 1225.0 808.0C1228.8 808.1 1231.2 808.4 1235.0 808.2C1238.8 808.1 1243.3 807.1 1248.0 807.0C1252.7 806.9 1258.0 807.4 1263.0 807.5C1268.0 807.6 1273.0 807.6 1278.0 807.5C1283.0 807.4 1288.4 807.2 1293.0 807.0C1297.6 806.8 1302.2 806.5 1305.5 806.0C1308.8 805.5 1310.7 804.7 1313.0 803.8C1315.3 802.8 1317.4 801.2 1319.2 800.5C1321.1 799.8 1322.6 799.3 1324.2 799.5C1325.9 799.7 1327.4 800.7 1329.2 801.5C1331.1 802.3 1332.8 803.7 1335.5 804.5C1338.2 805.3 1341.8 806.2 1345.5 806.5C1349.2 806.8 1353.8 806.6 1358.0 806.5C1362.2 806.4 1366.8 806.2 1370.5 806.0C1374.2 805.8 1377.2 805.2 1380.5 805.5C1383.8 805.8 1386.8 807.0 1390.5 807.5C1394.2 808.0 1398.8 808.5 1403.0 808.8C1407.2 809.0 1411.3 809.0 1415.5 808.8C1419.7 808.5 1423.8 807.4 1428.0 807.0C1432.2 806.6 1436.3 806.5 1440.5 806.2C1444.7 806.0 1448.4 805.7 1453.0 805.8C1457.6 805.8 1463.0 806.3 1468.0 806.5C1473.0 806.7 1478.0 806.8 1483.0 807.0C1488.0 807.2 1493.4 807.4 1498.0 807.5C1502.6 807.6 1506.8 807.8 1510.5 807.8C1514.2 807.8 1518.4 807.5 1520.0 807.5"/>
<path class="c" stroke="#00AE66" d="M100.0 532.5C100.4 534.2 101.6 539.4 102.5 542.5C103.4 545.6 104.3 548.8 105.5 551.2C106.7 553.8 107.9 556.0 109.5 557.5C111.1 559.0 112.8 559.7 115.0 560.5C117.2 561.3 120.0 562.1 122.5 562.5C125.0 562.9 127.7 563.0 130.0 563.0C132.3 563.0 134.4 563.0 136.2 562.5C138.1 562.0 139.8 560.8 141.2 560.0C142.7 559.2 143.9 558.8 145.0 557.5C146.1 556.2 147.2 554.8 148.0 552.5C148.8 550.2 149.3 546.5 150.0 543.8C150.7 541.0 151.4 537.8 152.0 536.2C152.6 534.7 153.0 534.3 153.8 534.5C154.5 534.7 155.3 536.6 156.2 537.5C157.2 538.4 158.5 539.5 159.5 540.0C160.5 540.5 161.6 540.0 162.5 540.5C163.4 541.0 164.0 541.8 165.0 543.0C166.0 544.2 167.5 546.7 168.8 548.0C170.0 549.3 171.2 550.2 172.5 550.8C173.8 551.3 175.0 551.4 176.2 551.2C177.5 551.1 178.9 550.7 180.0 550.0C181.1 549.3 182.1 548.2 183.0 547.0C183.9 545.8 184.5 544.0 185.5 543.0C186.5 542.0 187.7 541.8 188.8 541.2C189.8 540.7 191.0 540.3 192.0 539.5C193.0 538.7 193.9 537.6 195.0 536.2C196.1 534.9 197.6 533.1 198.8 531.2C199.9 529.4 200.9 527.5 201.8 525.0C202.6 522.5 203.1 518.1 203.8 516.2C204.4 514.4 204.9 514.0 205.5 513.8C206.1 513.5 206.8 515.1 207.5 514.5C208.2 513.9 209.2 512.4 210.0 510.0C210.8 507.6 211.9 505.0 212.5 500.0C213.1 495.0 213.3 492.1 213.8 480.0C214.2 467.9 214.6 443.3 215.0 427.5C215.4 411.7 215.8 394.4 216.2 385.0C216.7 375.6 217.0 371.2 217.5 371.2C218.0 371.2 218.5 374.4 219.0 385.0C219.5 395.6 219.9 418.3 220.5 435.0C221.1 451.7 221.8 471.2 222.5 485.0C223.2 498.8 224.2 510.1 225.0 517.5C225.8 524.9 226.7 529.1 227.5 529.5C228.3 529.9 229.2 525.8 230.0 520.0C230.8 514.2 231.3 505.8 232.0 495.0C232.7 484.2 233.3 469.2 234.0 455.0C234.7 440.8 235.5 422.3 236.2 410.0C237.0 397.7 238.0 385.6 238.8 381.2C239.5 376.9 240.1 379.8 240.8 383.8C241.4 387.7 241.9 394.4 242.5 405.0C243.1 415.6 243.8 432.5 244.5 447.5C245.2 462.5 246.1 481.2 247.0 495.0C247.9 508.8 249.0 520.4 250.0 530.0C251.0 539.6 252.0 546.9 253.0 552.5C254.0 558.1 255.1 561.0 256.2 563.8C257.4 566.5 258.8 567.8 260.0 568.8C261.2 569.7 262.5 569.5 263.8 569.2C265.0 569.0 266.4 568.6 267.5 567.5C268.6 566.4 269.6 564.1 270.5 562.5C271.4 560.9 272.2 558.6 273.0 558.0C273.8 557.4 274.7 558.2 275.5 558.8C276.3 559.3 277.2 561.5 278.0 561.2C278.8 561.0 279.8 560.2 280.5 557.5C281.2 554.8 281.8 547.7 282.5 545.0C283.2 542.3 283.8 541.2 284.5 541.2C285.2 541.2 285.8 542.3 286.5 545.0C287.2 547.7 288.0 554.5 288.8 557.5C289.5 560.5 289.9 562.8 290.8 563.2C291.6 563.7 292.7 561.6 293.8 560.0C294.8 558.4 296.0 555.1 297.0 553.8C298.0 552.4 298.7 551.6 299.5 552.0C300.3 552.4 301.2 554.7 302.0 556.2C302.8 557.8 303.7 560.3 304.5 561.2C305.3 562.2 306.1 562.5 307.0 562.0C307.9 561.5 308.9 558.8 310.0 558.0C311.1 557.2 312.5 557.6 313.8 557.0C315.0 556.4 316.2 555.3 317.5 554.5C318.8 553.7 320.2 552.0 321.2 552.0C322.3 552.0 322.9 553.8 323.8 554.5C324.6 555.2 325.3 556.6 326.2 556.2C327.2 555.9 328.5 553.8 329.5 552.5C330.5 551.2 331.4 551.2 332.5 548.8C333.6 546.2 335.0 542.3 336.2 537.5C337.5 532.7 338.9 527.9 340.0 520.0C341.1 512.1 342.2 499.2 343.0 490.0C343.8 480.8 344.3 471.7 345.0 465.0C345.7 458.3 346.2 453.8 347.0 450.0C347.8 446.2 349.2 445.8 350.0 442.5C350.8 439.2 351.4 434.6 352.0 430.0C352.6 425.4 353.1 417.9 353.8 415.0C354.4 412.1 355.1 412.1 355.8 412.5C356.4 412.9 356.9 414.2 357.5 417.5C358.1 420.8 358.8 429.0 359.5 432.5C360.2 436.0 361.2 438.8 362.0 438.8C362.8 438.8 363.7 436.0 364.5 432.5C365.3 429.0 366.2 421.0 367.0 417.5C367.8 414.0 368.6 413.8 369.5 411.2C370.4 408.8 371.6 406.0 372.5 402.5C373.4 399.0 374.2 393.5 375.0 390.0C375.8 386.5 376.3 382.2 377.0 381.2C377.7 380.3 378.3 383.0 379.0 384.5C379.7 386.0 380.5 389.5 381.2 390.0C382.0 390.5 382.9 388.8 383.8 387.5C384.6 386.2 385.4 383.0 386.2 382.0C387.1 381.0 388.0 380.5 388.8 381.2C389.5 382.0 390.1 381.9 390.8 386.2C391.4 390.6 392.0 399.4 392.5 407.5C393.0 415.6 393.5 429.2 394.0 435.0C394.5 440.8 394.9 442.5 395.5 442.5C396.1 442.5 396.8 439.6 397.5 435.0C398.2 430.4 398.8 421.0 399.5 415.0C400.2 409.0 401.1 402.7 402.0 398.8C402.9 394.8 404.0 393.5 405.0 391.2C406.0 389.0 407.1 387.7 408.0 385.0C408.9 382.3 409.7 377.3 410.5 375.0C411.3 372.7 411.8 371.9 413.0 371.2C414.2 370.6 416.0 371.2 417.5 371.2C419.0 371.2 420.9 369.8 422.0 371.2C423.1 372.7 423.3 375.6 424.0 380.0C424.7 384.4 425.5 392.1 426.2 397.5C427.0 402.9 427.8 408.8 428.8 412.5C429.7 416.2 430.9 418.5 432.0 420.0C433.1 421.5 434.4 421.5 435.5 421.2C436.6 421.0 437.7 420.1 438.8 418.8C439.8 417.4 440.8 413.5 441.8 413.2C442.7 413.0 443.6 413.9 444.5 417.5C445.4 421.1 446.2 429.2 447.0 435.0C447.8 440.8 448.5 447.9 449.2 452.5C450.0 457.1 450.4 460.4 451.2 462.5C452.1 464.6 453.5 463.8 454.5 465.0C455.5 466.2 456.5 467.7 457.5 470.0C458.5 472.3 459.5 475.8 460.5 478.8C461.5 481.7 462.8 485.1 463.8 487.5C464.7 489.9 465.4 492.0 466.2 493.0C467.1 494.0 468.1 494.2 468.8 493.8C469.4 493.2 469.4 493.5 470.0 490.0C470.6 486.5 471.7 479.2 472.5 472.5C473.3 465.8 474.2 455.8 475.0 450.0C475.8 444.2 476.7 440.1 477.5 437.5C478.3 434.9 479.2 434.3 480.0 434.5C480.8 434.7 481.8 436.2 482.5 438.8C483.2 441.2 483.9 450.1 484.5 449.5C485.1 448.9 485.7 439.7 486.2 435.0C486.8 430.3 487.4 422.7 488.0 421.2C488.6 419.8 489.3 421.5 490.0 426.2C490.7 431.0 491.4 441.0 492.0 450.0C492.6 459.0 493.2 470.0 493.8 480.0C494.3 490.0 495.0 502.1 495.5 510.0C496.0 517.9 496.5 524.0 497.0 527.5C497.5 531.0 498.2 532.1 498.8 531.2C499.3 530.4 499.9 526.0 500.5 522.5C501.1 519.0 501.8 512.6 502.5 510.0C503.2 507.4 503.9 506.6 504.5 507.0C505.1 507.4 505.7 511.4 506.2 512.5C506.8 513.6 507.5 515.4 508.0 513.8C508.5 512.1 509.0 509.8 509.5 502.5C510.0 495.2 510.7 482.9 511.2 470.0C511.8 457.1 512.5 436.7 513.0 425.0C513.5 413.3 514.0 405.2 514.5 400.0C515.0 394.8 515.5 392.9 516.0 393.8C516.5 394.6 517.0 396.5 517.5 405.0C518.0 413.5 518.5 430.8 519.0 445.0C519.5 459.2 520.0 476.7 520.5 490.0C521.0 503.3 521.4 516.0 522.0 525.0C522.6 534.0 523.3 539.8 524.0 543.8C524.7 547.7 525.3 549.0 526.0 548.8C526.7 548.5 527.4 547.3 528.0 542.5C528.6 537.7 529.0 525.4 529.5 520.0C530.0 514.6 530.3 510.8 530.8 510.0C531.2 509.2 531.6 510.4 532.0 515.0C532.4 519.6 532.8 530.8 533.2 537.5C533.7 544.2 534.0 551.0 534.5 555.0C535.0 559.0 535.3 560.0 536.2 561.2C537.2 562.5 538.8 562.4 540.0 562.5C541.2 562.6 542.5 562.5 543.8 562.0C545.0 561.5 546.3 560.2 547.5 559.5C548.7 558.8 549.7 557.5 550.8 557.5C551.8 557.5 552.7 559.3 553.8 559.5C554.8 559.7 556.0 559.4 557.0 558.8C558.0 558.1 559.0 557.2 560.0 555.5C561.0 553.8 562.2 551.3 563.0 548.8C563.8 546.2 564.3 541.9 565.0 540.0C565.7 538.1 566.4 537.7 567.0 537.5C567.6 537.3 568.2 540.0 568.8 538.8C569.3 537.5 570.0 534.0 570.5 530.0C571.0 526.0 571.5 518.3 572.0 515.0C572.5 511.7 573.0 509.4 573.5 510.0C574.0 510.6 574.5 514.6 575.0 518.8C575.5 522.9 575.9 531.5 576.5 535.0C577.1 538.5 577.8 538.6 578.8 539.5C579.8 540.4 581.0 540.3 582.5 540.5C584.0 540.7 585.8 540.7 587.5 540.5C589.2 540.3 591.0 539.9 592.5 539.5C594.0 539.1 595.1 538.4 596.2 538.0C597.4 537.6 598.5 536.9 599.5 537.0C600.5 537.1 601.4 538.2 602.5 538.8C603.6 539.2 605.1 539.9 606.2 540.0C607.4 540.1 608.5 540.3 609.5 539.5C610.5 538.7 611.6 537.4 612.5 535.0C613.4 532.6 614.2 528.3 615.0 525.0C615.8 521.7 616.3 517.5 617.0 515.0C617.7 512.5 618.4 511.5 619.2 510.0C620.1 508.5 621.2 508.3 622.0 506.2C622.8 504.2 623.4 502.7 624.0 497.5C624.6 492.3 625.0 483.3 625.5 475.0C626.0 466.7 626.5 454.6 627.0 447.5C627.5 440.4 628.2 435.8 628.8 432.5C629.3 429.2 629.7 428.8 630.5 428.0C631.3 427.2 632.8 428.9 633.8 428.0C634.7 427.1 635.5 425.9 636.2 422.5C637.0 419.1 637.5 413.8 638.0 407.5C638.5 401.2 639.0 391.5 639.5 385.0C640.0 378.5 640.7 371.9 641.2 368.8C641.8 365.6 642.5 365.8 643.0 366.2C643.5 366.7 644.0 367.3 644.5 371.2C645.0 375.2 645.5 381.5 646.0 390.0C646.5 398.5 647.0 412.1 647.5 422.5C648.0 432.9 648.5 442.9 649.0 452.5C649.5 462.1 649.9 471.7 650.5 480.0C651.1 488.3 651.8 496.2 652.5 502.5C653.2 508.8 654.0 513.1 655.0 517.5C656.0 521.9 657.5 525.4 658.8 528.8C660.0 532.1 661.2 535.0 662.5 537.5C663.8 540.0 665.0 542.1 666.2 543.8C667.5 545.4 668.8 546.7 670.0 547.5C671.2 548.3 672.4 548.8 673.8 548.8C675.1 548.7 676.8 546.9 678.0 547.0C679.2 547.1 680.1 548.5 681.2 549.5C682.4 550.5 683.8 551.8 685.0 553.0C686.2 554.2 687.5 555.9 688.8 557.0C690.0 558.1 691.0 558.9 692.5 559.5C694.0 560.1 696.0 560.6 697.5 560.8C699.0 560.9 700.1 561.0 701.2 560.5C702.4 560.0 703.4 558.6 704.5 557.5C705.6 556.4 706.9 554.0 708.0 553.8C709.1 553.5 710.1 555.4 711.2 556.2C712.4 557.1 713.5 557.8 715.0 558.8C716.5 559.7 718.3 561.2 720.0 562.0C721.7 562.8 722.9 563.2 725.0 563.8C727.1 564.2 730.0 564.7 732.5 565.0C735.0 565.3 737.7 565.6 740.0 565.5C742.3 565.4 744.2 565.1 746.2 564.5C748.3 563.9 750.2 562.8 752.5 562.0C754.8 561.2 757.5 560.2 760.0 559.5C762.5 558.8 765.0 558.4 767.5 558.0C770.0 557.6 772.1 557.3 775.0 557.0C777.9 556.7 781.7 556.3 785.0 556.2C788.3 556.2 791.2 556.5 795.0 556.5C798.8 556.5 803.3 556.2 807.5 556.0C811.7 555.8 816.2 555.6 820.0 555.5C823.8 555.4 826.7 555.4 830.0 555.5C833.3 555.6 836.7 555.8 840.0 556.0C843.3 556.2 847.1 556.9 850.0 557.0C852.9 557.1 854.6 556.4 857.5 556.5C860.4 556.6 864.6 557.2 867.5 557.5C870.4 557.8 872.1 558.2 875.0 558.5C877.9 558.8 881.7 558.8 885.0 559.0C888.3 559.2 891.7 559.6 895.0 560.0C898.3 560.4 901.7 561.1 905.0 561.5C908.3 561.9 911.7 562.4 915.0 562.5C918.3 562.6 921.2 562.2 925.0 562.0C928.8 561.8 933.3 561.6 937.5 561.5C941.7 561.4 945.8 561.7 950.0 561.5C954.2 561.3 958.3 560.8 962.5 560.5C966.7 560.2 971.2 560.2 975.0 560.0C978.8 559.8 981.7 559.6 985.0 559.5C988.3 559.4 991.7 559.4 995.0 559.5C998.3 559.6 1001.7 559.8 1005.0 560.0C1008.3 560.2 1011.7 560.5 1015.0 560.8C1018.3 561.0 1021.7 561.1 1025.0 561.2C1028.3 561.4 1031.7 561.6 1035.0 561.5C1038.3 561.4 1042.1 561.1 1045.0 560.8C1047.9 560.4 1050.5 560.0 1052.5 559.5C1054.5 559.0 1055.8 558.7 1057.0 557.5C1058.2 556.3 1058.8 554.8 1059.5 552.5C1060.2 550.2 1060.7 546.9 1061.2 543.8C1061.8 540.6 1062.4 536.1 1063.0 533.8C1063.6 531.4 1064.3 530.0 1065.0 529.5C1065.7 529.0 1066.4 529.6 1067.0 530.5C1067.6 531.4 1068.2 533.2 1068.8 535.0C1069.3 536.8 1069.9 539.7 1070.5 541.2C1071.1 542.8 1071.8 544.3 1072.5 544.5C1073.2 544.7 1073.8 543.7 1074.5 542.5C1075.2 541.3 1075.8 539.2 1076.5 537.5C1077.2 535.8 1078.0 533.8 1078.8 532.5C1079.5 531.2 1080.4 531.0 1081.2 530.0C1082.1 529.0 1082.9 528.3 1083.8 526.2C1084.6 524.2 1085.4 520.6 1086.2 517.5C1087.1 514.4 1087.9 510.6 1088.8 507.5C1089.6 504.4 1090.4 501.2 1091.2 498.8C1092.1 496.2 1092.9 493.9 1093.8 492.5C1094.6 491.1 1095.3 490.8 1096.2 490.5C1097.2 490.2 1098.7 491.0 1099.5 490.5C1100.3 490.0 1100.7 488.2 1101.2 487.5C1101.8 486.8 1102.5 485.9 1103.0 486.2C1103.5 486.6 1104.0 487.2 1104.5 489.5C1105.0 491.8 1105.6 496.2 1106.2 500.0C1106.9 503.8 1107.5 508.3 1108.2 512.5C1109.0 516.7 1109.7 521.7 1110.5 525.0C1111.3 528.3 1112.2 531.0 1113.0 532.5C1113.8 534.0 1114.7 534.2 1115.5 533.8C1116.3 533.3 1117.2 532.5 1118.0 530.0C1118.8 527.5 1119.3 523.3 1120.0 518.8C1120.7 514.2 1121.4 506.7 1122.0 502.5C1122.6 498.3 1123.2 495.5 1123.8 493.8C1124.3 492.0 1125.0 491.6 1125.5 492.0C1126.0 492.4 1126.5 493.9 1127.0 496.2C1127.5 498.6 1128.0 503.3 1128.5 506.2C1129.0 509.2 1129.5 512.3 1130.0 513.8C1130.5 515.2 1131.0 516.0 1131.5 515.0C1132.0 514.0 1132.5 510.8 1133.0 507.5C1133.5 504.2 1134.0 497.6 1134.5 495.0C1135.0 492.4 1135.5 491.8 1136.0 492.0C1136.5 492.2 1137.0 493.2 1137.5 496.2C1138.0 499.2 1138.5 505.2 1139.0 510.0C1139.5 514.8 1139.9 520.8 1140.5 525.0C1141.1 529.2 1141.8 533.0 1142.5 535.0C1143.2 537.0 1143.8 537.6 1144.5 537.0C1145.2 536.4 1145.9 533.8 1146.5 531.2C1147.1 528.8 1147.5 523.9 1148.0 522.0C1148.5 520.1 1149.0 519.5 1149.5 520.0C1150.0 520.5 1150.7 522.7 1151.2 525.0C1151.8 527.3 1152.4 531.7 1153.0 533.8C1153.6 535.8 1154.3 537.5 1155.0 537.5C1155.7 537.5 1156.4 534.7 1157.0 533.8C1157.6 532.8 1158.2 531.6 1158.8 532.0C1159.3 532.4 1159.8 533.7 1160.2 536.2C1160.7 538.8 1160.9 544.8 1161.5 547.5C1162.1 550.2 1163.0 551.9 1163.8 552.5C1164.5 553.1 1165.5 550.8 1166.2 551.2C1167.0 551.7 1167.3 553.5 1168.0 555.0C1168.7 556.5 1169.5 558.8 1170.5 560.0C1171.5 561.2 1172.2 562.0 1173.8 562.5C1175.3 563.0 1177.7 563.1 1180.0 563.0C1182.3 562.9 1185.4 562.0 1187.5 562.0C1189.6 562.0 1190.4 562.8 1192.5 563.0C1194.6 563.2 1196.7 563.4 1200.0 563.5C1203.3 563.6 1208.3 563.6 1212.5 563.8C1216.7 563.9 1220.8 564.2 1225.0 564.2C1229.2 564.3 1233.7 564.1 1237.5 564.0C1241.3 563.9 1243.8 563.8 1248.0 563.5C1252.2 563.2 1258.0 562.8 1263.0 562.5C1268.0 562.2 1273.0 562.2 1278.0 562.0C1283.0 561.8 1288.4 561.3 1293.0 561.0C1297.6 560.7 1302.2 560.5 1305.5 560.0C1308.8 559.5 1310.7 558.8 1313.0 558.0C1315.3 557.2 1317.4 555.7 1319.2 555.0C1321.1 554.3 1322.6 554.0 1324.2 554.0C1325.9 554.0 1327.4 554.3 1329.2 555.0C1331.1 555.7 1332.8 557.0 1335.5 558.0C1338.2 559.0 1341.8 560.2 1345.5 561.0C1349.2 561.8 1353.4 562.1 1358.0 562.5C1362.6 562.9 1368.8 563.0 1373.0 563.2C1377.2 563.5 1379.7 563.6 1383.0 564.0C1386.3 564.4 1388.8 565.2 1393.0 565.5C1397.2 565.8 1403.0 565.8 1408.0 565.8C1413.0 565.8 1418.0 565.7 1423.0 565.5C1428.0 565.3 1433.0 564.9 1438.0 564.8C1443.0 564.6 1448.0 564.5 1453.0 564.5C1458.0 564.5 1463.0 564.5 1468.0 564.8C1473.0 565.0 1478.0 565.4 1483.0 565.8C1488.0 566.1 1493.4 566.7 1498.0 567.0C1502.6 567.3 1506.8 567.6 1510.5 567.8C1514.2 567.9 1518.4 567.8 1520.0 567.8"/>
<path class="c" stroke="#DC9A00" d="M100.0 304.0C100.6 306.1 101.9 312.6 103.3 316.7C104.7 320.7 106.4 325.4 108.3 328.3C110.3 331.3 112.2 332.8 115.0 334.3C117.8 335.8 121.9 336.8 125.0 337.3C128.1 337.8 130.8 337.8 133.3 337.3C135.8 336.8 138.1 335.8 140.0 334.3C141.9 332.8 143.6 331.3 145.0 328.3C146.4 325.4 147.4 321.4 148.3 316.7C149.3 311.9 149.8 304.2 150.7 300.0C151.5 295.8 152.3 291.9 153.3 291.7C154.3 291.4 155.6 296.3 156.7 298.3C157.8 300.4 158.9 302.7 160.0 304.0C161.1 305.3 162.2 304.2 163.3 306.0C164.4 307.8 165.3 311.7 166.7 315.0C168.1 318.3 170.0 323.2 171.7 326.0C173.3 328.8 175.0 330.6 176.7 331.7C178.3 332.8 180.3 333.2 181.7 332.7C183.1 332.1 183.9 329.2 185.0 328.3C186.1 327.4 187.2 327.3 188.3 327.3C189.4 327.3 190.3 328.7 191.7 328.3C193.1 327.9 195.1 326.9 196.7 325.0C198.2 323.1 199.9 320.0 201.0 316.7C202.1 313.3 202.5 307.5 203.3 305.0C204.2 302.5 205.2 302.1 206.0 301.7C206.8 301.3 207.5 304.6 208.3 302.7C209.2 300.7 210.2 298.8 211.0 290.0C211.8 281.2 212.6 266.1 213.3 250.0C214.1 233.9 214.7 206.8 215.3 193.3C216.0 179.9 216.7 168.2 217.3 169.3C218.0 170.4 218.6 183.8 219.3 200.0C220.1 216.2 220.8 249.4 221.7 266.7C222.5 283.9 223.4 295.8 224.3 303.3C225.3 310.8 226.4 311.7 227.3 311.7C228.3 311.7 229.1 311.9 230.0 303.3C230.9 294.7 231.7 279.4 232.7 260.0C233.7 240.6 234.9 205.0 236.0 186.7C237.1 168.3 238.3 154.4 239.3 150.0C240.3 145.6 241.2 151.7 242.0 160.0C242.8 168.3 243.6 183.3 244.3 200.0C245.1 216.7 245.7 242.2 246.7 260.0C247.6 277.8 248.9 295.0 250.0 306.7C251.1 318.3 252.1 324.2 253.3 330.0C254.6 335.8 255.9 339.3 257.3 341.7C258.7 344.0 260.1 344.2 261.7 344.0C263.2 343.8 265.2 342.4 266.7 340.7C268.2 338.9 269.6 336.3 270.7 333.3C271.8 330.3 272.3 324.3 273.3 322.7C274.3 321.0 275.7 322.4 276.7 323.3C277.7 324.3 278.5 329.4 279.3 328.3C280.2 327.2 280.8 320.6 281.7 316.7C282.5 312.8 283.5 306.4 284.3 305.0C285.2 303.6 285.8 305.0 286.7 308.3C287.5 311.7 288.5 321.7 289.3 325.0C290.2 328.3 290.7 329.2 291.7 328.3C292.6 327.5 293.9 323.3 295.0 320.0C296.1 316.7 297.3 310.0 298.3 308.3C299.3 306.7 300.2 307.8 301.0 310.0C301.8 312.2 302.4 318.2 303.3 321.7C304.3 325.1 305.4 329.6 306.7 330.7C307.9 331.8 309.4 329.0 310.7 328.3C311.9 327.7 312.9 326.9 314.0 326.7C315.1 326.4 316.2 327.2 317.3 326.7C318.5 326.1 319.9 322.8 321.0 323.3C322.1 323.9 322.8 328.8 324.0 330.0C325.2 331.2 327.1 330.4 328.3 330.7C329.6 330.9 330.6 332.6 331.7 331.7C332.8 330.7 333.9 327.5 335.0 325.0C336.1 322.5 337.2 320.8 338.3 316.7C339.4 312.5 340.7 308.3 341.7 300.0C342.7 291.7 343.5 276.4 344.3 266.7C345.2 256.9 345.7 246.4 346.7 241.7C347.6 236.9 349.0 240.8 350.0 238.3C351.0 235.8 351.8 230.3 352.7 226.7C353.6 223.1 354.5 217.8 355.3 216.7C356.2 215.6 356.9 217.9 357.7 220.0C358.4 222.1 359.2 229.3 360.0 229.3C360.8 229.3 361.7 226.0 362.7 220.0C363.7 214.0 364.9 201.9 366.0 193.3C367.1 184.7 368.1 174.7 369.3 168.3C370.6 161.9 372.0 158.9 373.3 155.0C374.7 151.1 376.2 145.3 377.3 145.0C378.4 144.7 379.0 149.4 380.0 153.3C381.0 157.2 382.3 166.7 383.3 168.3C384.3 170.0 385.2 165.8 386.0 163.3C386.8 160.8 387.6 153.9 388.3 153.3C389.1 152.8 389.9 152.2 390.7 160.0C391.4 167.8 391.9 189.4 392.7 200.0C393.4 210.6 394.2 219.4 395.0 223.3C395.8 227.2 396.5 226.1 397.3 223.3C398.2 220.6 399.0 214.4 400.0 206.7C401.0 198.9 402.1 186.1 403.3 176.7C404.6 167.2 405.9 156.1 407.3 150.0C408.7 143.9 410.4 141.4 411.7 140.0C412.9 138.6 413.9 140.6 415.0 141.7C416.1 142.8 417.2 146.4 418.3 146.7C419.4 146.9 420.7 141.7 421.7 143.3C422.6 145.0 423.1 150.6 424.0 156.7C424.9 162.8 426.2 172.5 427.3 180.0C428.5 187.5 429.7 195.6 431.0 201.7C432.3 207.8 433.8 213.6 435.0 216.7C436.2 219.7 437.2 220.3 438.3 220.0C439.4 219.7 440.6 214.7 441.7 215.0C442.8 215.3 443.9 217.5 445.0 221.7C446.1 225.8 447.2 234.4 448.3 240.0C449.4 245.6 450.6 252.3 451.7 255.0C452.8 257.7 453.9 256.0 455.0 256.0C456.1 256.0 457.2 254.1 458.3 255.0C459.4 255.9 460.6 260.0 461.7 261.7C462.8 263.3 463.8 264.4 465.0 265.0C466.2 265.6 467.8 267.5 469.0 265.0C470.2 262.5 471.2 257.5 472.3 250.0C473.4 242.5 474.6 227.8 475.7 220.0C476.8 212.2 477.9 206.2 479.0 203.3C480.1 200.4 481.3 203.2 482.3 202.7C483.3 202.1 484.2 201.7 485.0 200.0C485.8 198.3 486.5 190.4 487.3 192.7C488.2 194.9 489.1 203.2 490.0 213.3C490.9 223.4 491.7 240.6 492.7 253.3C493.6 266.1 494.7 281.8 495.7 290.0C496.6 298.2 497.4 302.7 498.3 302.7C499.2 302.7 500.2 294.1 501.0 290.0C501.8 285.9 502.4 280.8 503.3 278.3C504.3 275.8 505.7 279.2 506.7 275.0C507.7 270.8 508.5 268.1 509.3 253.3C510.2 238.6 510.9 205.6 511.7 186.7C512.4 167.8 513.3 149.7 514.0 140.0C514.7 130.3 515.1 127.8 515.7 128.3C516.3 128.9 517.1 131.4 517.7 143.3C518.3 155.3 518.8 179.4 519.3 200.0C519.9 220.6 520.4 249.4 521.0 266.7C521.6 283.9 522.0 295.3 522.7 303.3C523.3 311.4 524.2 315.6 525.0 315.0C525.8 314.4 526.7 308.1 527.3 300.0C528.0 291.9 528.4 275.3 529.0 266.7C529.6 258.1 530.1 248.3 530.7 248.3C531.3 248.3 532.1 255.3 532.7 266.7C533.2 278.1 533.4 305.3 534.0 316.7C534.6 328.1 535.1 331.2 536.3 335.0C537.6 338.8 539.7 338.8 541.3 339.3C543.0 339.9 544.9 338.9 546.3 338.3C547.7 337.8 548.6 336.0 549.7 336.0C550.8 336.0 551.7 337.6 553.0 338.3C554.3 339.1 556.1 340.7 557.3 340.7C558.6 340.7 559.7 340.1 560.7 338.3C561.6 336.6 562.2 333.3 563.0 330.0C563.8 326.7 564.5 320.0 565.3 318.3C566.2 316.7 567.2 320.8 568.0 320.0C568.8 319.2 569.3 318.3 570.0 313.3C570.7 308.3 571.4 295.1 572.0 290.0C572.6 284.9 573.1 282.1 573.7 282.7C574.3 283.2 575.1 287.1 575.7 293.3C576.3 299.6 576.7 313.3 577.3 320.0C578.0 326.7 578.4 330.4 579.7 333.3C580.9 336.2 583.0 336.7 584.7 337.3C586.3 338.0 588.0 337.8 589.7 337.3C591.3 336.8 593.0 335.1 594.7 334.3C596.3 333.6 597.7 332.9 599.7 332.7C601.6 332.4 604.5 333.4 606.3 332.7C608.2 331.9 609.4 331.0 610.7 328.3C611.9 325.7 612.7 321.1 613.7 316.7C614.6 312.2 615.3 305.8 616.3 301.7C617.3 297.5 618.6 294.7 619.7 291.7C620.8 288.6 622.1 288.1 623.0 283.3C623.9 278.6 624.7 272.8 625.3 263.3C626.0 253.9 626.4 238.3 627.0 226.7C627.6 215.0 628.1 201.7 628.7 193.3C629.3 185.0 629.8 180.3 630.7 176.7C631.6 173.1 633.0 174.4 634.0 171.7C635.0 168.9 635.8 165.3 636.7 160.0C637.5 154.7 638.1 145.8 639.0 140.0C639.9 134.2 641.1 125.6 642.0 125.0C642.9 124.4 643.8 128.6 644.7 136.7C645.6 144.7 646.5 160.6 647.3 173.3C648.2 186.1 648.9 200.0 649.7 213.3C650.4 226.7 651.2 242.2 652.0 253.3C652.8 264.4 653.7 272.2 654.7 280.0C655.7 287.8 656.8 294.2 658.0 300.0C659.2 305.8 660.6 310.6 662.0 315.0C663.4 319.4 664.9 323.9 666.3 326.7C667.8 329.4 669.4 331.0 670.7 331.7C671.9 332.3 672.9 331.6 674.0 330.7C675.1 329.7 676.1 327.1 677.0 326.0C677.9 324.9 678.7 324.3 679.7 324.3C680.7 324.3 681.7 325.1 683.0 326.0C684.3 326.9 685.9 328.5 687.3 330.0C688.7 331.5 689.8 333.8 691.3 335.0C692.8 336.2 694.8 337.2 696.3 337.3C697.9 337.5 699.4 337.2 700.7 336.0C701.9 334.8 702.8 332.2 704.0 330.0C705.2 327.8 706.7 323.3 708.0 322.7C709.3 322.0 710.6 324.8 712.0 326.0C713.4 327.2 714.8 328.5 716.3 330.0C717.9 331.5 719.4 333.6 721.3 335.0C723.3 336.4 725.5 337.5 728.0 338.3C730.5 339.2 733.6 339.8 736.3 340.0C739.1 340.2 741.6 340.0 744.7 339.3C747.7 338.7 751.3 336.7 754.7 336.0C758.0 335.3 761.3 335.2 764.7 335.0C768.0 334.8 771.3 334.7 774.7 335.0C778.0 335.3 781.3 336.1 784.7 336.7C788.0 337.2 790.2 338.0 794.7 338.3C799.1 338.7 805.8 338.8 811.3 338.7C816.9 338.5 822.4 337.7 828.0 337.3C833.6 337.0 840.5 337.2 844.7 336.7C848.8 336.2 850.8 334.6 853.0 334.3C855.2 334.1 856.3 335.3 858.0 335.0C859.7 334.7 861.3 332.7 863.0 332.7C864.7 332.7 865.5 334.6 868.0 335.0C870.5 335.4 874.4 335.1 878.0 335.0C881.6 334.9 886.3 334.2 889.7 334.3C893.0 334.5 894.4 335.3 898.0 336.0C901.6 336.7 906.3 338.0 911.3 338.3C916.3 338.7 922.4 337.9 928.0 338.0C933.6 338.1 939.1 338.8 944.7 339.0C950.2 339.2 955.8 339.4 961.3 339.3C966.9 339.2 972.4 338.3 978.0 338.3C983.6 338.3 989.1 338.9 994.7 339.3C1000.2 339.7 1005.8 340.3 1011.3 340.7C1016.9 341.1 1023.0 341.7 1028.0 341.7C1033.0 341.7 1037.4 341.2 1041.3 340.7C1045.2 340.1 1048.9 339.4 1051.3 338.3C1053.8 337.3 1054.7 336.0 1056.0 334.3C1057.3 332.7 1058.3 331.8 1059.3 328.3C1060.3 324.8 1061.2 318.6 1062.0 313.3C1062.8 308.1 1063.6 300.4 1064.3 296.7C1065.1 292.9 1065.9 290.7 1066.7 290.7C1067.4 290.7 1067.9 293.7 1068.7 296.7C1069.4 299.6 1070.2 305.7 1071.0 308.3C1071.8 311.0 1072.5 313.2 1073.3 312.7C1074.2 312.1 1075.1 307.7 1076.0 305.0C1076.9 302.3 1077.7 298.7 1078.7 296.7C1079.7 294.6 1080.9 294.9 1082.0 292.7C1083.1 290.4 1084.2 287.1 1085.3 283.3C1086.4 279.6 1087.6 274.4 1088.7 270.0C1089.8 265.6 1090.9 260.6 1092.0 256.7C1093.1 252.8 1094.2 248.6 1095.3 246.7C1096.4 244.7 1097.7 245.3 1098.7 245.0C1099.6 244.7 1100.2 245.7 1101.0 245.0C1101.8 244.3 1102.6 240.1 1103.3 240.7C1104.1 241.2 1104.6 244.0 1105.3 248.3C1106.1 252.7 1106.8 260.3 1107.7 266.7C1108.5 273.1 1109.4 280.8 1110.3 286.7C1111.3 292.5 1112.4 298.6 1113.3 301.7C1114.3 304.7 1115.1 305.3 1116.0 305.0C1116.9 304.7 1117.8 304.2 1118.7 300.0C1119.6 295.8 1120.5 286.9 1121.3 280.0C1122.2 273.1 1123.0 262.7 1123.7 258.3C1124.3 254.0 1124.7 253.2 1125.3 254.0C1125.9 254.8 1126.7 260.0 1127.3 263.3C1128.0 266.7 1128.7 272.3 1129.3 274.0C1130.0 275.7 1130.7 276.8 1131.3 273.3C1132.0 269.9 1132.7 257.9 1133.3 253.3C1134.0 248.8 1134.7 246.3 1135.3 246.0C1136.0 245.7 1136.7 247.1 1137.3 251.7C1138.0 256.2 1138.6 266.4 1139.3 273.3C1140.1 280.3 1140.9 288.9 1141.7 293.3C1142.4 297.8 1142.9 300.0 1143.7 300.0C1144.4 300.0 1145.3 296.4 1146.0 293.3C1146.7 290.3 1147.3 284.2 1148.0 281.7C1148.7 279.2 1149.3 277.5 1150.0 278.3C1150.7 279.2 1151.3 283.2 1152.0 286.7C1152.7 290.2 1153.7 297.9 1154.3 299.3C1155.0 300.7 1155.3 296.1 1156.0 295.0C1156.7 293.9 1157.6 291.3 1158.3 292.7C1159.1 294.1 1159.6 298.5 1160.3 303.3C1161.1 308.2 1161.7 318.4 1162.7 321.7C1163.6 324.9 1165.0 321.0 1166.0 322.7C1167.0 324.3 1167.7 328.9 1168.7 331.7C1169.7 334.4 1170.5 337.7 1172.0 339.3C1173.5 341.0 1175.6 341.3 1177.7 341.7C1179.7 342.1 1182.4 341.9 1184.3 341.7C1186.3 341.4 1187.4 340.0 1189.3 340.0C1191.3 340.0 1191.6 341.2 1196.0 341.7C1200.4 342.1 1209.3 342.5 1216.0 342.7C1222.7 342.8 1229.3 342.9 1236.0 342.7C1242.7 342.4 1249.3 341.8 1256.0 341.3C1262.7 340.9 1269.3 340.4 1276.0 340.0C1282.7 339.6 1290.7 339.1 1296.0 338.7C1301.3 338.2 1304.3 338.1 1307.7 337.3C1311.0 336.6 1313.3 335.2 1316.0 334.0C1318.7 332.8 1321.2 330.2 1323.7 330.0C1326.2 329.8 1327.8 331.6 1331.0 332.7C1334.2 333.8 1338.5 335.6 1342.7 336.7C1346.8 337.8 1351.6 338.7 1356.0 339.3C1360.4 339.9 1365.4 340.3 1369.3 340.3C1373.2 340.3 1376.0 339.1 1379.3 339.3C1382.7 339.6 1385.4 341.0 1389.3 341.7C1393.2 342.3 1398.2 342.9 1402.7 343.3C1407.1 343.7 1411.0 344.0 1416.0 344.0C1421.0 344.0 1427.1 343.6 1432.7 343.3C1438.2 343.1 1443.2 342.6 1449.3 342.3C1455.4 342.1 1462.7 342.2 1469.3 342.0C1476.0 341.8 1483.2 341.6 1489.3 341.3C1495.4 341.1 1500.9 341.0 1506.0 340.7C1511.1 340.3 1517.7 339.6 1520.0 339.3"/>
</g>
<g id="guides">
<line class="g" x1="216.7" y1="172.0" x2="215.0" y2="1058.3"/>
<line class="g" x1="239.0" y1="153.0" x2="238.0" y2="1058.3"/>
<line class="g" x1="283.4" y1="307.0" x2="283.4" y2="1058.3"/>
<line class="g" x1="356.0" y1="217.0" x2="356.0" y2="1058.3"/>
<line class="g" x1="375.7" y1="152.0" x2="371.3" y2="1058.3"/>
<line class="g" x1="414.3" y1="146.0" x2="414.3" y2="1058.3"/>
<line class="g" x1="442.0" y1="217.0" x2="442.0" y2="1058.3"/>
<line class="g" x1="487.3" y1="193.0" x2="487.3" y2="1058.3"/>
<line class="g" x1="516.7" y1="146.0" x2="515.0" y2="1058.3"/>
<line class="g" x1="532.7" y1="252.0" x2="532.7" y2="1058.3"/>
<line class="g" x1="575.0" y1="285.0" x2="577.0" y2="1058.3"/>
<line class="g" x1="630.7" y1="177.0" x2="632.5" y2="1058.3"/>
<line class="g" x1="643.3" y1="128.0" x2="645.0" y2="1058.3"/>
<line class="g" x1="1067.3" y1="290.0" x2="1067.3" y2="1058.3"/>
<line class="g" x1="1100.0" y1="236.0" x2="1100.0" y2="1058.3"/>
<line class="g" x1="1130.3" y1="253.0" x2="1130.3" y2="1058.3"/>
<line class="g" x1="1150.7" y1="282.0" x2="1150.7" y2="1058.3"/>
<line class="g" x1="1160.0" y1="295.0" x2="1158.3" y2="1058.3"/>
<line class="g" x1="1323.0" y1="328.0" x2="1321.2" y2="1058.3"/>
</g>
<g id="frame" stroke="#000" fill="none" stroke-linecap="butt">
<line x1="99.0" y1="11.0" x2="99.0" y2="1061.8" stroke-width="4.0"/>
<line x1="1520.8" y1="11.0" x2="1520.8" y2="1061.8" stroke-width="4.0"/>
<line x1="97.0" y1="13.0" x2="1522.8" y2="13.0" stroke-width="4.0"/>
<line x1="97.0" y1="1059.8" x2="1522.8" y2="1059.8" stroke-width="4.0"/>
</g>
<g id="ticks" stroke="#000" stroke-linecap="butt">
<line x1="138.5" y1="1059.8" x2="138.5" y2="1080.2" stroke-width="4.2"/>
<line x1="336.0" y1="1059.8" x2="336.0" y2="1080.2" stroke-width="4.2"/>
<line x1="533.4" y1="1059.8" x2="533.4" y2="1080.2" stroke-width="4.2"/>
<line x1="730.9" y1="1059.8" x2="730.9" y2="1080.2" stroke-width="4.2"/>
<line x1="928.4" y1="1059.8" x2="928.4" y2="1080.2" stroke-width="4.2"/>
<line x1="1125.9" y1="1059.8" x2="1125.9" y2="1080.2" stroke-width="4.2"/>
<line x1="1323.3" y1="1059.8" x2="1323.3" y2="1080.2" stroke-width="4.2"/>
<line x1="1520.8" y1="1059.8" x2="1520.8" y2="1080.2" stroke-width="4.2"/>
<line x1="237.2" y1="1059.8" x2="237.2" y2="1069.2" stroke-width="3.7"/>
<line x1="434.7" y1="1059.8" x2="434.7" y2="1069.2" stroke-width="3.7"/>
<line x1="632.2" y1="1059.8" x2="632.2" y2="1069.2" stroke-width="3.7"/>
<line x1="829.6" y1="1059.8" x2="829.6" y2="1069.2" stroke-width="3.7"/>
<line x1="1027.1" y1="1059.8" x2="1027.1" y2="1069.2" stroke-width="3.7"/>
<line x1="1224.6" y1="1059.8" x2="1224.6" y2="1069.2" stroke-width="3.7"/>
<line x1="1422.1" y1="1059.8" x2="1422.1" y2="1069.2" stroke-width="3.7"/>
</g>
<text class="tick" transform="translate(138.5,1132.1) scale(1,1.040)">500</text>
<text class="tick" transform="translate(336.0,1132.1) scale(1,1.040)">1000</text>
<text class="tick" transform="translate(533.4,1132.1) scale(1,1.040)">1500</text>
<text class="tick" transform="translate(730.9,1132.1) scale(1,1.040)">2000</text>
<text class="tick" transform="translate(928.4,1132.1) scale(1,1.040)">2500</text>
<text class="tick" transform="translate(1125.9,1132.1) scale(1,1.040)">3000</text>
<text class="tick" transform="translate(1323.3,1132.1) scale(1,1.040)">3500</text>
<text class="tick" transform="translate(1520.8,1132.1) scale(1,1.040)">4000</text>
<g id="xtitle">
<text class="b" font-size="54.5" transform="translate(559.5,1226.8) scale(1,1.056)">Wavenumber [cm</text>
<text class="b" font-size="37.00" transform="translate(1011.22,1204.40) scale(0.8502,1.0109)">−1</text>
<text class="b" font-size="54.5" transform="translate(1052.6,1226.8) scale(1,1.056)">]</text>
</g>
<text class="b" font-size="53.8" transform="translate(54.3,718.8) rotate(-90) scale(1,1.07)">Intensity [a.u.]</text>
<text class="ser" transform="translate(1437.0,324.0) scale(1,1.040)">W5</text>
<text class="ser" transform="translate(1436.5,545.5) scale(1,1.040)">W4</text>
<text class="ser" transform="translate(1435.5,790.0) scale(1,1.040)">W3</text>
<text class="ser" transform="translate(1431.5,1027.0) scale(1,1.040)">W2</text>
<g id="peaks">
<text class="pk" font-size="35.00" transform="translate(230.54,169.84) rotate(-90) scale(0.9359,1.0176)">700</text>
<text class="pk" font-size="35.00" transform="translate(264.45,128.43) rotate(-90) scale(0.8692,1.0057)">757</text>
<text class="pk" font-size="35.00" transform="translate(310.92,283.80) rotate(-90) scale(0.9144,1.0653)">885</text>
<text class="pk" font-size="35.00" transform="translate(354.74,216.95) rotate(-90) scale(0.8902,1.0176)">1047</text>
<text class="pk" font-size="35.00" transform="translate(398.04,144.08) rotate(-90) scale(0.8150,1.0176)">1103</text>
<text class="pk" font-size="35.00" transform="translate(429.74,136.21) rotate(-90) scale(0.7824,1.0176)">1201</text>
<text class="pk" font-size="35.00" transform="translate(457.24,204.52) rotate(-90) scale(0.8402,1.0176)"><tspan dy="-4.5">-</tspan><tspan dy="4.5">1269</tspan></text>
<text class="pk" font-size="35.00" transform="translate(496.42,192.93) rotate(-90) scale(0.8376,1.0534)">1363</text>
<text class="pk" font-size="35.00" transform="translate(524.74,120.54) rotate(-90) scale(0.8877,1.0176)">1454</text>
<text class="pk" font-size="35.00" transform="translate(547.24,239.71) rotate(-90) scale(0.8727,1.0176)">1492</text>
<text class="pk" font-size="35.00" transform="translate(584.72,285.19) rotate(-90) scale(0.8663,1.0653)">1600</text>
<text class="pk" font-size="35.00" transform="translate(633.60,176.90) rotate(-90) scale(0.8686,1.0403)">1747</text>
<text class="pk" font-size="35.00" transform="translate(655.30,117.19) rotate(-90) scale(0.8663,1.0077)">1774</text>
<text class="pk" font-size="35.00" transform="translate(1082.42,259.30) rotate(-90) scale(0.9118,1.0574)">2850</text>
<text class="pk" font-size="35.00" transform="translate(1114.34,214.10) rotate(-90) scale(0.9131,1.0256)">2933</text>
<text class="pk" font-size="35.00" transform="translate(1151.22,214.29) rotate(-90) scale(0.9025,1.0614)">3025</text>
<text class="pk" font-size="35.00" transform="translate(1183.94,246.28) rotate(-90) scale(0.8973,1.0176)">3060</text>
<text class="pk" font-size="35.00" transform="translate(1223.04,262.02) rotate(-90) scale(0.8374,1.0176)">3081</text>
<text class="pk" font-size="35.00" transform="translate(1335.07,301.65) rotate(-90) scale(0.9605,0.9779)" style="stroke:#000;stroke-width:0.35px">3500</text>
</g>
<g id="leaders">
<line class="ld" x1="245.0" y1="139.7" x2="250.3" y2="130.0"/>
<line class="ld" x1="1066.7" y1="260.2" x2="1066.7" y2="279.0"/>
<line class="ld" x1="1100.0" y1="215.0" x2="1100.0" y2="233.8"/>
<line class="ld" x1="1135.8" y1="215.0" x2="1135.8" y2="234.2"/>
<line class="ld" x1="1155.6" y1="269.2" x2="1170.2" y2="248.3"/>
<line class="ld" x1="1165.4" y1="283.1" x2="1185.4" y2="263.3"/>
<line class="ld" x1="1322.9" y1="302.5" x2="1322.9" y2="319.2"/>
</g>
</svg>
</body></html>
